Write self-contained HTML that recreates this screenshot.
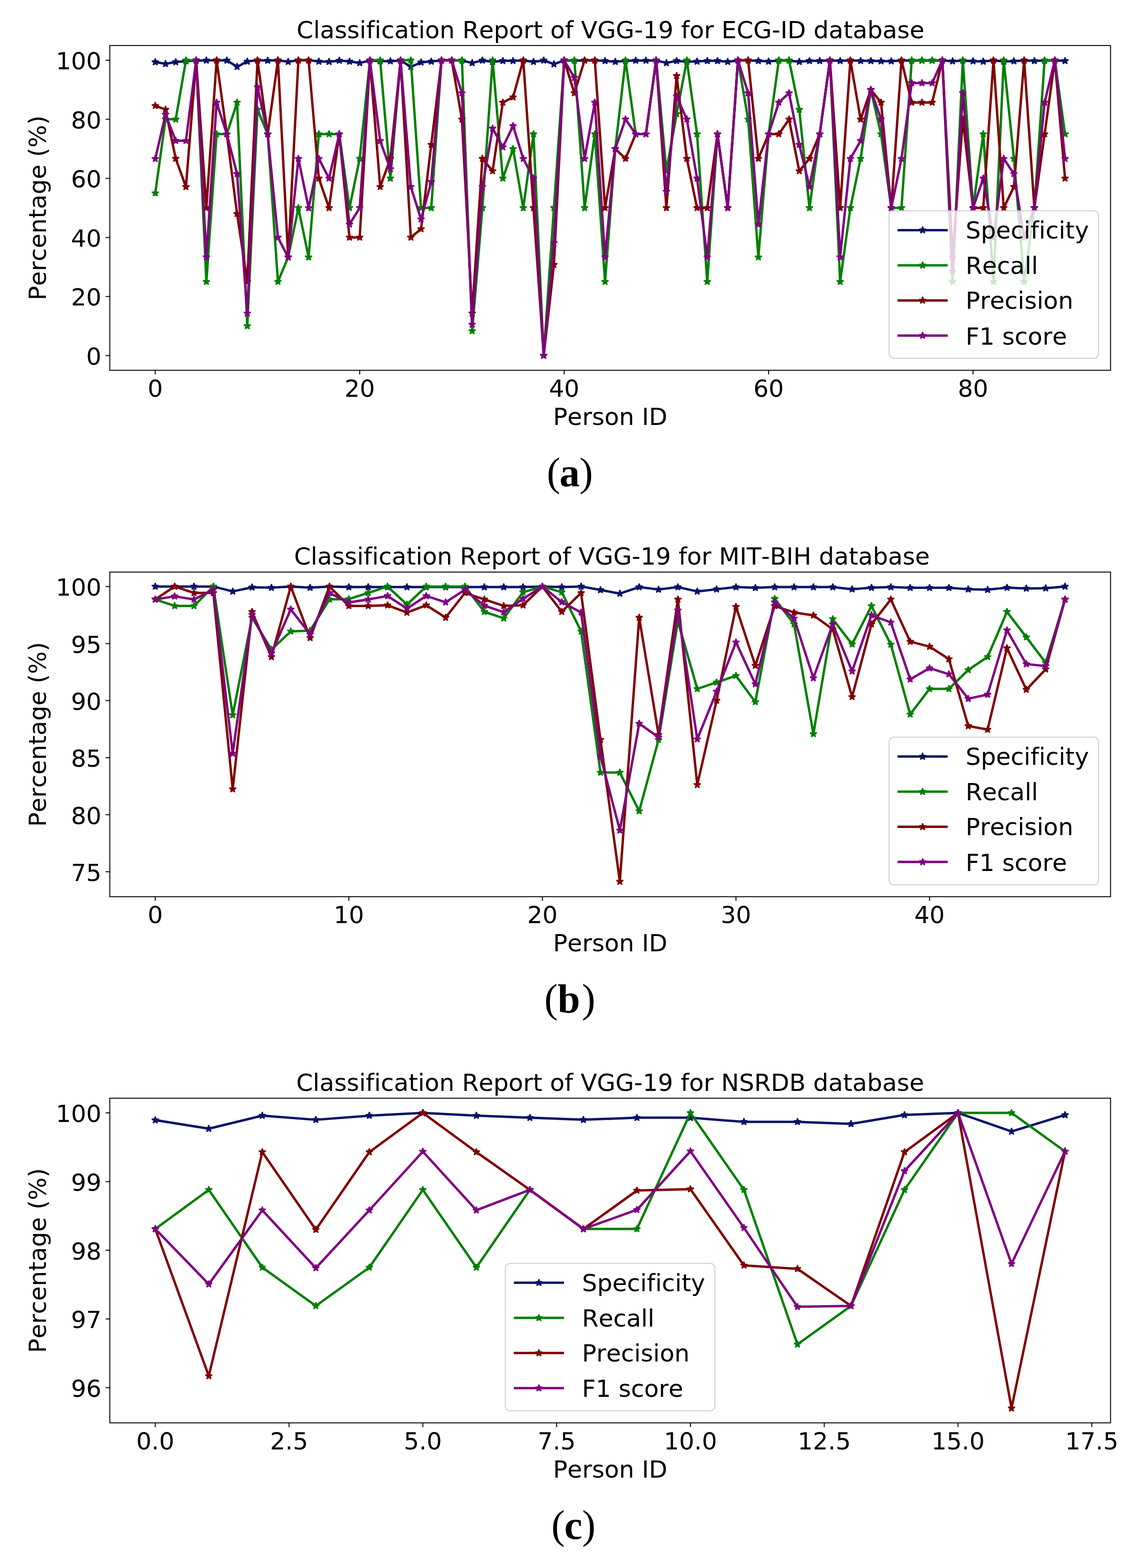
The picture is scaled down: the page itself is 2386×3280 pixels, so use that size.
<!DOCTYPE html><html><head><meta charset="utf-8"><title>Classification Report of VGG-19</title><style>html,body{margin:0;padding:0;background:#fff}svg{display:block}text{font-kerning:none;font-variant-ligatures:none;font-feature-settings:"liga" 0,"clig" 0}</style></head><body><svg width="2386" height="3280" viewBox="0 0 2386 3280"><rect x="0" y="0" width="2386" height="3280" fill="#fff"/><g><polyline fill="none" stroke="#0a1268" stroke-width="5.00" stroke-linejoin="round" stroke-linecap="square" points="324.70,129.81 346.08,133.51 367.45,129.81 388.83,127.95 410.20,126.72 431.58,126.41 452.96,126.10 474.33,126.41 495.71,139.69 517.08,128.57 538.46,126.10 559.83,126.72 581.21,126.10 602.59,129.19 623.96,126.10 645.34,126.10 666.71,128.57 688.09,129.19 709.47,126.72 730.84,128.57 752.22,131.66 773.59,126.72 794.97,127.95 816.35,127.95 837.72,126.72 859.10,139.69 880.47,130.42 901.85,128.57 923.23,126.41 944.60,126.41 965.98,126.72 987.35,131.66 1008.73,126.41 1030.10,129.19 1051.48,127.34 1072.86,127.34 1094.23,126.41 1115.61,129.19 1136.98,126.41 1158.36,134.13 1179.74,126.41 1201.11,126.72 1222.49,126.41 1243.86,126.41 1265.24,127.34 1286.62,129.19 1307.99,127.34 1329.37,126.72 1350.74,126.72 1372.12,126.41 1393.49,131.66 1414.87,127.34 1436.25,129.19 1457.62,128.57 1479.00,127.34 1500.37,127.34 1521.75,129.19 1543.13,126.41 1564.50,126.41 1585.88,127.34 1607.25,128.57 1628.63,126.72 1650.01,126.72 1671.38,129.19 1692.76,127.34 1714.13,127.34 1735.51,126.41 1756.88,127.34 1778.26,126.41 1799.64,127.34 1821.01,127.34 1842.39,127.95 1863.76,127.95 1885.14,126.41 1906.52,126.72 1927.89,126.72 1949.27,126.72 1970.64,126.41 1992.02,127.95 2013.40,126.72 2034.77,127.95 2056.15,128.57 2077.52,126.41 2098.90,128.57 2120.28,127.95 2141.65,126.41 2163.03,127.34 2184.40,126.72 2205.78,126.41 2227.15,127.34"/><path fill="#0a1268" stroke="#0a1268" stroke-width="2.50" stroke-linejoin="bevel" d="M324.70,129.81m0.00,-7.50l-1.68,5.18l-5.45,-0.00l4.41,3.20l-1.68,5.18l4.41,-3.20l4.41,3.20l-1.68,-5.18l4.41,-3.20l-5.45,0.00zM346.08,133.51m0.00,-7.50l-1.68,5.18l-5.45,-0.00l4.41,3.20l-1.68,5.18l4.41,-3.20l4.41,3.20l-1.68,-5.18l4.41,-3.20l-5.45,0.00zM367.45,129.81m0.00,-7.50l-1.68,5.18l-5.45,-0.00l4.41,3.20l-1.68,5.18l4.41,-3.20l4.41,3.20l-1.68,-5.18l4.41,-3.20l-5.45,0.00zM388.83,127.95m0.00,-7.50l-1.68,5.18l-5.45,-0.00l4.41,3.20l-1.68,5.18l4.41,-3.20l4.41,3.20l-1.68,-5.18l4.41,-3.20l-5.45,0.00zM410.20,126.72m0.00,-7.50l-1.68,5.18l-5.45,-0.00l4.41,3.20l-1.68,5.18l4.41,-3.20l4.41,3.20l-1.68,-5.18l4.41,-3.20l-5.45,0.00zM431.58,126.41m0.00,-7.50l-1.68,5.18l-5.45,-0.00l4.41,3.20l-1.68,5.18l4.41,-3.20l4.41,3.20l-1.68,-5.18l4.41,-3.20l-5.45,0.00zM452.96,126.10m0.00,-7.50l-1.68,5.18l-5.45,-0.00l4.41,3.20l-1.68,5.18l4.41,-3.20l4.41,3.20l-1.68,-5.18l4.41,-3.20l-5.45,0.00zM474.33,126.41m0.00,-7.50l-1.68,5.18l-5.45,-0.00l4.41,3.20l-1.68,5.18l4.41,-3.20l4.41,3.20l-1.68,-5.18l4.41,-3.20l-5.45,0.00zM495.71,139.69m0.00,-7.50l-1.68,5.18l-5.45,-0.00l4.41,3.20l-1.68,5.18l4.41,-3.20l4.41,3.20l-1.68,-5.18l4.41,-3.20l-5.45,0.00zM517.08,128.57m0.00,-7.50l-1.68,5.18l-5.45,-0.00l4.41,3.20l-1.68,5.18l4.41,-3.20l4.41,3.20l-1.68,-5.18l4.41,-3.20l-5.45,0.00zM538.46,126.10m0.00,-7.50l-1.68,5.18l-5.45,-0.00l4.41,3.20l-1.68,5.18l4.41,-3.20l4.41,3.20l-1.68,-5.18l4.41,-3.20l-5.45,0.00zM559.83,126.72m0.00,-7.50l-1.68,5.18l-5.45,-0.00l4.41,3.20l-1.68,5.18l4.41,-3.20l4.41,3.20l-1.68,-5.18l4.41,-3.20l-5.45,0.00zM581.21,126.10m0.00,-7.50l-1.68,5.18l-5.45,-0.00l4.41,3.20l-1.68,5.18l4.41,-3.20l4.41,3.20l-1.68,-5.18l4.41,-3.20l-5.45,0.00zM602.59,129.19m0.00,-7.50l-1.68,5.18l-5.45,-0.00l4.41,3.20l-1.68,5.18l4.41,-3.20l4.41,3.20l-1.68,-5.18l4.41,-3.20l-5.45,0.00zM623.96,126.10m0.00,-7.50l-1.68,5.18l-5.45,-0.00l4.41,3.20l-1.68,5.18l4.41,-3.20l4.41,3.20l-1.68,-5.18l4.41,-3.20l-5.45,0.00zM645.34,126.10m0.00,-7.50l-1.68,5.18l-5.45,-0.00l4.41,3.20l-1.68,5.18l4.41,-3.20l4.41,3.20l-1.68,-5.18l4.41,-3.20l-5.45,0.00zM666.71,128.57m0.00,-7.50l-1.68,5.18l-5.45,-0.00l4.41,3.20l-1.68,5.18l4.41,-3.20l4.41,3.20l-1.68,-5.18l4.41,-3.20l-5.45,0.00zM688.09,129.19m0.00,-7.50l-1.68,5.18l-5.45,-0.00l4.41,3.20l-1.68,5.18l4.41,-3.20l4.41,3.20l-1.68,-5.18l4.41,-3.20l-5.45,0.00zM709.47,126.72m0.00,-7.50l-1.68,5.18l-5.45,-0.00l4.41,3.20l-1.68,5.18l4.41,-3.20l4.41,3.20l-1.68,-5.18l4.41,-3.20l-5.45,0.00zM730.84,128.57m0.00,-7.50l-1.68,5.18l-5.45,-0.00l4.41,3.20l-1.68,5.18l4.41,-3.20l4.41,3.20l-1.68,-5.18l4.41,-3.20l-5.45,0.00zM752.22,131.66m0.00,-7.50l-1.68,5.18l-5.45,-0.00l4.41,3.20l-1.68,5.18l4.41,-3.20l4.41,3.20l-1.68,-5.18l4.41,-3.20l-5.45,0.00zM773.59,126.72m0.00,-7.50l-1.68,5.18l-5.45,-0.00l4.41,3.20l-1.68,5.18l4.41,-3.20l4.41,3.20l-1.68,-5.18l4.41,-3.20l-5.45,0.00zM794.97,127.95m0.00,-7.50l-1.68,5.18l-5.45,-0.00l4.41,3.20l-1.68,5.18l4.41,-3.20l4.41,3.20l-1.68,-5.18l4.41,-3.20l-5.45,0.00zM816.35,127.95m0.00,-7.50l-1.68,5.18l-5.45,-0.00l4.41,3.20l-1.68,5.18l4.41,-3.20l4.41,3.20l-1.68,-5.18l4.41,-3.20l-5.45,0.00zM837.72,126.72m0.00,-7.50l-1.68,5.18l-5.45,-0.00l4.41,3.20l-1.68,5.18l4.41,-3.20l4.41,3.20l-1.68,-5.18l4.41,-3.20l-5.45,0.00zM859.10,139.69m0.00,-7.50l-1.68,5.18l-5.45,-0.00l4.41,3.20l-1.68,5.18l4.41,-3.20l4.41,3.20l-1.68,-5.18l4.41,-3.20l-5.45,0.00zM880.47,130.42m0.00,-7.50l-1.68,5.18l-5.45,-0.00l4.41,3.20l-1.68,5.18l4.41,-3.20l4.41,3.20l-1.68,-5.18l4.41,-3.20l-5.45,0.00zM901.85,128.57m0.00,-7.50l-1.68,5.18l-5.45,-0.00l4.41,3.20l-1.68,5.18l4.41,-3.20l4.41,3.20l-1.68,-5.18l4.41,-3.20l-5.45,0.00zM923.23,126.41m0.00,-7.50l-1.68,5.18l-5.45,-0.00l4.41,3.20l-1.68,5.18l4.41,-3.20l4.41,3.20l-1.68,-5.18l4.41,-3.20l-5.45,0.00zM944.60,126.41m0.00,-7.50l-1.68,5.18l-5.45,-0.00l4.41,3.20l-1.68,5.18l4.41,-3.20l4.41,3.20l-1.68,-5.18l4.41,-3.20l-5.45,0.00zM965.98,126.72m0.00,-7.50l-1.68,5.18l-5.45,-0.00l4.41,3.20l-1.68,5.18l4.41,-3.20l4.41,3.20l-1.68,-5.18l4.41,-3.20l-5.45,0.00zM987.35,131.66m0.00,-7.50l-1.68,5.18l-5.45,-0.00l4.41,3.20l-1.68,5.18l4.41,-3.20l4.41,3.20l-1.68,-5.18l4.41,-3.20l-5.45,0.00zM1008.73,126.41m0.00,-7.50l-1.68,5.18l-5.45,-0.00l4.41,3.20l-1.68,5.18l4.41,-3.20l4.41,3.20l-1.68,-5.18l4.41,-3.20l-5.45,0.00zM1030.10,129.19m0.00,-7.50l-1.68,5.18l-5.45,-0.00l4.41,3.20l-1.68,5.18l4.41,-3.20l4.41,3.20l-1.68,-5.18l4.41,-3.20l-5.45,0.00zM1051.48,127.34m0.00,-7.50l-1.68,5.18l-5.45,-0.00l4.41,3.20l-1.68,5.18l4.41,-3.20l4.41,3.20l-1.68,-5.18l4.41,-3.20l-5.45,0.00zM1072.86,127.34m0.00,-7.50l-1.68,5.18l-5.45,-0.00l4.41,3.20l-1.68,5.18l4.41,-3.20l4.41,3.20l-1.68,-5.18l4.41,-3.20l-5.45,0.00zM1094.23,126.41m0.00,-7.50l-1.68,5.18l-5.45,-0.00l4.41,3.20l-1.68,5.18l4.41,-3.20l4.41,3.20l-1.68,-5.18l4.41,-3.20l-5.45,0.00zM1115.61,129.19m0.00,-7.50l-1.68,5.18l-5.45,-0.00l4.41,3.20l-1.68,5.18l4.41,-3.20l4.41,3.20l-1.68,-5.18l4.41,-3.20l-5.45,0.00zM1136.98,126.41m0.00,-7.50l-1.68,5.18l-5.45,-0.00l4.41,3.20l-1.68,5.18l4.41,-3.20l4.41,3.20l-1.68,-5.18l4.41,-3.20l-5.45,0.00zM1158.36,134.13m0.00,-7.50l-1.68,5.18l-5.45,-0.00l4.41,3.20l-1.68,5.18l4.41,-3.20l4.41,3.20l-1.68,-5.18l4.41,-3.20l-5.45,0.00zM1179.74,126.41m0.00,-7.50l-1.68,5.18l-5.45,-0.00l4.41,3.20l-1.68,5.18l4.41,-3.20l4.41,3.20l-1.68,-5.18l4.41,-3.20l-5.45,0.00zM1201.11,126.72m0.00,-7.50l-1.68,5.18l-5.45,-0.00l4.41,3.20l-1.68,5.18l4.41,-3.20l4.41,3.20l-1.68,-5.18l4.41,-3.20l-5.45,0.00zM1222.49,126.41m0.00,-7.50l-1.68,5.18l-5.45,-0.00l4.41,3.20l-1.68,5.18l4.41,-3.20l4.41,3.20l-1.68,-5.18l4.41,-3.20l-5.45,0.00zM1243.86,126.41m0.00,-7.50l-1.68,5.18l-5.45,-0.00l4.41,3.20l-1.68,5.18l4.41,-3.20l4.41,3.20l-1.68,-5.18l4.41,-3.20l-5.45,0.00zM1265.24,127.34m0.00,-7.50l-1.68,5.18l-5.45,-0.00l4.41,3.20l-1.68,5.18l4.41,-3.20l4.41,3.20l-1.68,-5.18l4.41,-3.20l-5.45,0.00zM1286.62,129.19m0.00,-7.50l-1.68,5.18l-5.45,-0.00l4.41,3.20l-1.68,5.18l4.41,-3.20l4.41,3.20l-1.68,-5.18l4.41,-3.20l-5.45,0.00zM1307.99,127.34m0.00,-7.50l-1.68,5.18l-5.45,-0.00l4.41,3.20l-1.68,5.18l4.41,-3.20l4.41,3.20l-1.68,-5.18l4.41,-3.20l-5.45,0.00zM1329.37,126.72m0.00,-7.50l-1.68,5.18l-5.45,-0.00l4.41,3.20l-1.68,5.18l4.41,-3.20l4.41,3.20l-1.68,-5.18l4.41,-3.20l-5.45,0.00zM1350.74,126.72m0.00,-7.50l-1.68,5.18l-5.45,-0.00l4.41,3.20l-1.68,5.18l4.41,-3.20l4.41,3.20l-1.68,-5.18l4.41,-3.20l-5.45,0.00zM1372.12,126.41m0.00,-7.50l-1.68,5.18l-5.45,-0.00l4.41,3.20l-1.68,5.18l4.41,-3.20l4.41,3.20l-1.68,-5.18l4.41,-3.20l-5.45,0.00zM1393.49,131.66m0.00,-7.50l-1.68,5.18l-5.45,-0.00l4.41,3.20l-1.68,5.18l4.41,-3.20l4.41,3.20l-1.68,-5.18l4.41,-3.20l-5.45,0.00zM1414.87,127.34m0.00,-7.50l-1.68,5.18l-5.45,-0.00l4.41,3.20l-1.68,5.18l4.41,-3.20l4.41,3.20l-1.68,-5.18l4.41,-3.20l-5.45,0.00zM1436.25,129.19m0.00,-7.50l-1.68,5.18l-5.45,-0.00l4.41,3.20l-1.68,5.18l4.41,-3.20l4.41,3.20l-1.68,-5.18l4.41,-3.20l-5.45,0.00zM1457.62,128.57m0.00,-7.50l-1.68,5.18l-5.45,-0.00l4.41,3.20l-1.68,5.18l4.41,-3.20l4.41,3.20l-1.68,-5.18l4.41,-3.20l-5.45,0.00zM1479.00,127.34m0.00,-7.50l-1.68,5.18l-5.45,-0.00l4.41,3.20l-1.68,5.18l4.41,-3.20l4.41,3.20l-1.68,-5.18l4.41,-3.20l-5.45,0.00zM1500.37,127.34m0.00,-7.50l-1.68,5.18l-5.45,-0.00l4.41,3.20l-1.68,5.18l4.41,-3.20l4.41,3.20l-1.68,-5.18l4.41,-3.20l-5.45,0.00zM1521.75,129.19m0.00,-7.50l-1.68,5.18l-5.45,-0.00l4.41,3.20l-1.68,5.18l4.41,-3.20l4.41,3.20l-1.68,-5.18l4.41,-3.20l-5.45,0.00zM1543.13,126.41m0.00,-7.50l-1.68,5.18l-5.45,-0.00l4.41,3.20l-1.68,5.18l4.41,-3.20l4.41,3.20l-1.68,-5.18l4.41,-3.20l-5.45,0.00zM1564.50,126.41m0.00,-7.50l-1.68,5.18l-5.45,-0.00l4.41,3.20l-1.68,5.18l4.41,-3.20l4.41,3.20l-1.68,-5.18l4.41,-3.20l-5.45,0.00zM1585.88,127.34m0.00,-7.50l-1.68,5.18l-5.45,-0.00l4.41,3.20l-1.68,5.18l4.41,-3.20l4.41,3.20l-1.68,-5.18l4.41,-3.20l-5.45,0.00zM1607.25,128.57m0.00,-7.50l-1.68,5.18l-5.45,-0.00l4.41,3.20l-1.68,5.18l4.41,-3.20l4.41,3.20l-1.68,-5.18l4.41,-3.20l-5.45,0.00zM1628.63,126.72m0.00,-7.50l-1.68,5.18l-5.45,-0.00l4.41,3.20l-1.68,5.18l4.41,-3.20l4.41,3.20l-1.68,-5.18l4.41,-3.20l-5.45,0.00zM1650.01,126.72m0.00,-7.50l-1.68,5.18l-5.45,-0.00l4.41,3.20l-1.68,5.18l4.41,-3.20l4.41,3.20l-1.68,-5.18l4.41,-3.20l-5.45,0.00zM1671.38,129.19m0.00,-7.50l-1.68,5.18l-5.45,-0.00l4.41,3.20l-1.68,5.18l4.41,-3.20l4.41,3.20l-1.68,-5.18l4.41,-3.20l-5.45,0.00zM1692.76,127.34m0.00,-7.50l-1.68,5.18l-5.45,-0.00l4.41,3.20l-1.68,5.18l4.41,-3.20l4.41,3.20l-1.68,-5.18l4.41,-3.20l-5.45,0.00zM1714.13,127.34m0.00,-7.50l-1.68,5.18l-5.45,-0.00l4.41,3.20l-1.68,5.18l4.41,-3.20l4.41,3.20l-1.68,-5.18l4.41,-3.20l-5.45,0.00zM1735.51,126.41m0.00,-7.50l-1.68,5.18l-5.45,-0.00l4.41,3.20l-1.68,5.18l4.41,-3.20l4.41,3.20l-1.68,-5.18l4.41,-3.20l-5.45,0.00zM1756.88,127.34m0.00,-7.50l-1.68,5.18l-5.45,-0.00l4.41,3.20l-1.68,5.18l4.41,-3.20l4.41,3.20l-1.68,-5.18l4.41,-3.20l-5.45,0.00zM1778.26,126.41m0.00,-7.50l-1.68,5.18l-5.45,-0.00l4.41,3.20l-1.68,5.18l4.41,-3.20l4.41,3.20l-1.68,-5.18l4.41,-3.20l-5.45,0.00zM1799.64,127.34m0.00,-7.50l-1.68,5.18l-5.45,-0.00l4.41,3.20l-1.68,5.18l4.41,-3.20l4.41,3.20l-1.68,-5.18l4.41,-3.20l-5.45,0.00zM1821.01,127.34m0.00,-7.50l-1.68,5.18l-5.45,-0.00l4.41,3.20l-1.68,5.18l4.41,-3.20l4.41,3.20l-1.68,-5.18l4.41,-3.20l-5.45,0.00zM1842.39,127.95m0.00,-7.50l-1.68,5.18l-5.45,-0.00l4.41,3.20l-1.68,5.18l4.41,-3.20l4.41,3.20l-1.68,-5.18l4.41,-3.20l-5.45,0.00zM1863.76,127.95m0.00,-7.50l-1.68,5.18l-5.45,-0.00l4.41,3.20l-1.68,5.18l4.41,-3.20l4.41,3.20l-1.68,-5.18l4.41,-3.20l-5.45,0.00zM1885.14,126.41m0.00,-7.50l-1.68,5.18l-5.45,-0.00l4.41,3.20l-1.68,5.18l4.41,-3.20l4.41,3.20l-1.68,-5.18l4.41,-3.20l-5.45,0.00zM1906.52,126.72m0.00,-7.50l-1.68,5.18l-5.45,-0.00l4.41,3.20l-1.68,5.18l4.41,-3.20l4.41,3.20l-1.68,-5.18l4.41,-3.20l-5.45,0.00zM1927.89,126.72m0.00,-7.50l-1.68,5.18l-5.45,-0.00l4.41,3.20l-1.68,5.18l4.41,-3.20l4.41,3.20l-1.68,-5.18l4.41,-3.20l-5.45,0.00zM1949.27,126.72m0.00,-7.50l-1.68,5.18l-5.45,-0.00l4.41,3.20l-1.68,5.18l4.41,-3.20l4.41,3.20l-1.68,-5.18l4.41,-3.20l-5.45,0.00zM1970.64,126.41m0.00,-7.50l-1.68,5.18l-5.45,-0.00l4.41,3.20l-1.68,5.18l4.41,-3.20l4.41,3.20l-1.68,-5.18l4.41,-3.20l-5.45,0.00zM1992.02,127.95m0.00,-7.50l-1.68,5.18l-5.45,-0.00l4.41,3.20l-1.68,5.18l4.41,-3.20l4.41,3.20l-1.68,-5.18l4.41,-3.20l-5.45,0.00zM2013.40,126.72m0.00,-7.50l-1.68,5.18l-5.45,-0.00l4.41,3.20l-1.68,5.18l4.41,-3.20l4.41,3.20l-1.68,-5.18l4.41,-3.20l-5.45,0.00zM2034.77,127.95m0.00,-7.50l-1.68,5.18l-5.45,-0.00l4.41,3.20l-1.68,5.18l4.41,-3.20l4.41,3.20l-1.68,-5.18l4.41,-3.20l-5.45,0.00zM2056.15,128.57m0.00,-7.50l-1.68,5.18l-5.45,-0.00l4.41,3.20l-1.68,5.18l4.41,-3.20l4.41,3.20l-1.68,-5.18l4.41,-3.20l-5.45,0.00zM2077.52,126.41m0.00,-7.50l-1.68,5.18l-5.45,-0.00l4.41,3.20l-1.68,5.18l4.41,-3.20l4.41,3.20l-1.68,-5.18l4.41,-3.20l-5.45,0.00zM2098.90,128.57m0.00,-7.50l-1.68,5.18l-5.45,-0.00l4.41,3.20l-1.68,5.18l4.41,-3.20l4.41,3.20l-1.68,-5.18l4.41,-3.20l-5.45,0.00zM2120.28,127.95m0.00,-7.50l-1.68,5.18l-5.45,-0.00l4.41,3.20l-1.68,5.18l4.41,-3.20l4.41,3.20l-1.68,-5.18l4.41,-3.20l-5.45,0.00zM2141.65,126.41m0.00,-7.50l-1.68,5.18l-5.45,-0.00l4.41,3.20l-1.68,5.18l4.41,-3.20l4.41,3.20l-1.68,-5.18l4.41,-3.20l-5.45,0.00zM2163.03,127.34m0.00,-7.50l-1.68,5.18l-5.45,-0.00l4.41,3.20l-1.68,5.18l4.41,-3.20l4.41,3.20l-1.68,-5.18l4.41,-3.20l-5.45,0.00zM2184.40,126.72m0.00,-7.50l-1.68,5.18l-5.45,-0.00l4.41,3.20l-1.68,5.18l4.41,-3.20l4.41,3.20l-1.68,-5.18l4.41,-3.20l-5.45,0.00zM2205.78,126.41m0.00,-7.50l-1.68,5.18l-5.45,-0.00l4.41,3.20l-1.68,5.18l4.41,-3.20l4.41,3.20l-1.68,-5.18l4.41,-3.20l-5.45,0.00zM2227.15,127.34m0.00,-7.50l-1.68,5.18l-5.45,-0.00l4.41,3.20l-1.68,5.18l4.41,-3.20l4.41,3.20l-1.68,-5.18l4.41,-3.20l-5.45,0.00z"/><polyline fill="none" stroke="#008000" stroke-width="5.00" stroke-linejoin="round" stroke-linecap="square" points="324.70,404.02 346.08,249.62 367.45,249.62 388.83,126.10 410.20,126.10 431.58,589.30 452.96,280.50 474.33,280.50 495.71,214.42 517.08,681.94 538.46,229.24 559.83,280.50 581.21,589.30 602.59,538.04 623.96,434.90 645.34,538.04 666.71,280.50 688.09,280.50 709.47,280.50 730.84,434.90 752.22,331.76 773.59,126.10 794.97,126.10 816.35,373.14 837.72,126.10 859.10,126.10 880.47,434.90 901.85,434.90 923.23,126.10 944.60,126.10 965.98,126.10 987.35,692.25 1008.73,434.90 1030.10,126.10 1051.48,373.14 1072.86,311.38 1094.23,434.90 1115.61,280.50 1136.98,743.70 1158.36,434.90 1179.74,126.10 1201.11,126.10 1222.49,434.90 1243.86,280.50 1265.24,589.30 1286.62,311.38 1307.99,126.10 1329.37,280.50 1350.74,280.50 1372.12,126.10 1393.49,357.70 1414.87,238.38 1436.25,126.10 1457.62,280.50 1479.00,589.30 1500.37,280.50 1521.75,434.90 1543.13,126.10 1564.50,249.62 1585.88,538.04 1607.25,280.50 1628.63,126.10 1650.01,126.10 1671.38,229.24 1692.76,434.90 1714.13,280.50 1735.51,126.10 1756.88,589.30 1778.26,434.90 1799.64,331.76 1821.01,187.86 1842.39,280.50 1863.76,434.90 1885.14,434.90 1906.52,126.10 1927.89,126.10 1949.27,126.10 1970.64,126.10 1992.02,589.30 2013.40,126.10 2034.77,434.90 2056.15,280.50 2077.52,589.30 2098.90,126.10 2120.28,331.76 2141.65,589.30 2163.03,434.90 2184.40,126.10 2205.78,126.10 2227.15,280.50"/><path fill="#008000" stroke="#008000" stroke-width="2.50" stroke-linejoin="bevel" d="M324.70,404.02m0.00,-7.50l-1.68,5.18l-5.45,-0.00l4.41,3.20l-1.68,5.18l4.41,-3.20l4.41,3.20l-1.68,-5.18l4.41,-3.20l-5.45,0.00zM346.08,249.62m0.00,-7.50l-1.68,5.18l-5.45,-0.00l4.41,3.20l-1.68,5.18l4.41,-3.20l4.41,3.20l-1.68,-5.18l4.41,-3.20l-5.45,0.00zM367.45,249.62m0.00,-7.50l-1.68,5.18l-5.45,-0.00l4.41,3.20l-1.68,5.18l4.41,-3.20l4.41,3.20l-1.68,-5.18l4.41,-3.20l-5.45,0.00zM388.83,126.10m0.00,-7.50l-1.68,5.18l-5.45,-0.00l4.41,3.20l-1.68,5.18l4.41,-3.20l4.41,3.20l-1.68,-5.18l4.41,-3.20l-5.45,0.00zM410.20,126.10m0.00,-7.50l-1.68,5.18l-5.45,-0.00l4.41,3.20l-1.68,5.18l4.41,-3.20l4.41,3.20l-1.68,-5.18l4.41,-3.20l-5.45,0.00zM431.58,589.30m0.00,-7.50l-1.68,5.18l-5.45,-0.00l4.41,3.20l-1.68,5.18l4.41,-3.20l4.41,3.20l-1.68,-5.18l4.41,-3.20l-5.45,0.00zM452.96,280.50m0.00,-7.50l-1.68,5.18l-5.45,-0.00l4.41,3.20l-1.68,5.18l4.41,-3.20l4.41,3.20l-1.68,-5.18l4.41,-3.20l-5.45,0.00zM474.33,280.50m0.00,-7.50l-1.68,5.18l-5.45,-0.00l4.41,3.20l-1.68,5.18l4.41,-3.20l4.41,3.20l-1.68,-5.18l4.41,-3.20l-5.45,0.00zM495.71,214.42m0.00,-7.50l-1.68,5.18l-5.45,-0.00l4.41,3.20l-1.68,5.18l4.41,-3.20l4.41,3.20l-1.68,-5.18l4.41,-3.20l-5.45,0.00zM517.08,681.94m0.00,-7.50l-1.68,5.18l-5.45,-0.00l4.41,3.20l-1.68,5.18l4.41,-3.20l4.41,3.20l-1.68,-5.18l4.41,-3.20l-5.45,0.00zM538.46,229.24m0.00,-7.50l-1.68,5.18l-5.45,-0.00l4.41,3.20l-1.68,5.18l4.41,-3.20l4.41,3.20l-1.68,-5.18l4.41,-3.20l-5.45,0.00zM559.83,280.50m0.00,-7.50l-1.68,5.18l-5.45,-0.00l4.41,3.20l-1.68,5.18l4.41,-3.20l4.41,3.20l-1.68,-5.18l4.41,-3.20l-5.45,0.00zM581.21,589.30m0.00,-7.50l-1.68,5.18l-5.45,-0.00l4.41,3.20l-1.68,5.18l4.41,-3.20l4.41,3.20l-1.68,-5.18l4.41,-3.20l-5.45,0.00zM602.59,538.04m0.00,-7.50l-1.68,5.18l-5.45,-0.00l4.41,3.20l-1.68,5.18l4.41,-3.20l4.41,3.20l-1.68,-5.18l4.41,-3.20l-5.45,0.00zM623.96,434.90m0.00,-7.50l-1.68,5.18l-5.45,-0.00l4.41,3.20l-1.68,5.18l4.41,-3.20l4.41,3.20l-1.68,-5.18l4.41,-3.20l-5.45,0.00zM645.34,538.04m0.00,-7.50l-1.68,5.18l-5.45,-0.00l4.41,3.20l-1.68,5.18l4.41,-3.20l4.41,3.20l-1.68,-5.18l4.41,-3.20l-5.45,0.00zM666.71,280.50m0.00,-7.50l-1.68,5.18l-5.45,-0.00l4.41,3.20l-1.68,5.18l4.41,-3.20l4.41,3.20l-1.68,-5.18l4.41,-3.20l-5.45,0.00zM688.09,280.50m0.00,-7.50l-1.68,5.18l-5.45,-0.00l4.41,3.20l-1.68,5.18l4.41,-3.20l4.41,3.20l-1.68,-5.18l4.41,-3.20l-5.45,0.00zM709.47,280.50m0.00,-7.50l-1.68,5.18l-5.45,-0.00l4.41,3.20l-1.68,5.18l4.41,-3.20l4.41,3.20l-1.68,-5.18l4.41,-3.20l-5.45,0.00zM730.84,434.90m0.00,-7.50l-1.68,5.18l-5.45,-0.00l4.41,3.20l-1.68,5.18l4.41,-3.20l4.41,3.20l-1.68,-5.18l4.41,-3.20l-5.45,0.00zM752.22,331.76m0.00,-7.50l-1.68,5.18l-5.45,-0.00l4.41,3.20l-1.68,5.18l4.41,-3.20l4.41,3.20l-1.68,-5.18l4.41,-3.20l-5.45,0.00zM773.59,126.10m0.00,-7.50l-1.68,5.18l-5.45,-0.00l4.41,3.20l-1.68,5.18l4.41,-3.20l4.41,3.20l-1.68,-5.18l4.41,-3.20l-5.45,0.00zM794.97,126.10m0.00,-7.50l-1.68,5.18l-5.45,-0.00l4.41,3.20l-1.68,5.18l4.41,-3.20l4.41,3.20l-1.68,-5.18l4.41,-3.20l-5.45,0.00zM816.35,373.14m0.00,-7.50l-1.68,5.18l-5.45,-0.00l4.41,3.20l-1.68,5.18l4.41,-3.20l4.41,3.20l-1.68,-5.18l4.41,-3.20l-5.45,0.00zM837.72,126.10m0.00,-7.50l-1.68,5.18l-5.45,-0.00l4.41,3.20l-1.68,5.18l4.41,-3.20l4.41,3.20l-1.68,-5.18l4.41,-3.20l-5.45,0.00zM859.10,126.10m0.00,-7.50l-1.68,5.18l-5.45,-0.00l4.41,3.20l-1.68,5.18l4.41,-3.20l4.41,3.20l-1.68,-5.18l4.41,-3.20l-5.45,0.00zM880.47,434.90m0.00,-7.50l-1.68,5.18l-5.45,-0.00l4.41,3.20l-1.68,5.18l4.41,-3.20l4.41,3.20l-1.68,-5.18l4.41,-3.20l-5.45,0.00zM901.85,434.90m0.00,-7.50l-1.68,5.18l-5.45,-0.00l4.41,3.20l-1.68,5.18l4.41,-3.20l4.41,3.20l-1.68,-5.18l4.41,-3.20l-5.45,0.00zM923.23,126.10m0.00,-7.50l-1.68,5.18l-5.45,-0.00l4.41,3.20l-1.68,5.18l4.41,-3.20l4.41,3.20l-1.68,-5.18l4.41,-3.20l-5.45,0.00zM944.60,126.10m0.00,-7.50l-1.68,5.18l-5.45,-0.00l4.41,3.20l-1.68,5.18l4.41,-3.20l4.41,3.20l-1.68,-5.18l4.41,-3.20l-5.45,0.00zM965.98,126.10m0.00,-7.50l-1.68,5.18l-5.45,-0.00l4.41,3.20l-1.68,5.18l4.41,-3.20l4.41,3.20l-1.68,-5.18l4.41,-3.20l-5.45,0.00zM987.35,692.25m0.00,-7.50l-1.68,5.18l-5.45,-0.00l4.41,3.20l-1.68,5.18l4.41,-3.20l4.41,3.20l-1.68,-5.18l4.41,-3.20l-5.45,0.00zM1008.73,434.90m0.00,-7.50l-1.68,5.18l-5.45,-0.00l4.41,3.20l-1.68,5.18l4.41,-3.20l4.41,3.20l-1.68,-5.18l4.41,-3.20l-5.45,0.00zM1030.10,126.10m0.00,-7.50l-1.68,5.18l-5.45,-0.00l4.41,3.20l-1.68,5.18l4.41,-3.20l4.41,3.20l-1.68,-5.18l4.41,-3.20l-5.45,0.00zM1051.48,373.14m0.00,-7.50l-1.68,5.18l-5.45,-0.00l4.41,3.20l-1.68,5.18l4.41,-3.20l4.41,3.20l-1.68,-5.18l4.41,-3.20l-5.45,0.00zM1072.86,311.38m0.00,-7.50l-1.68,5.18l-5.45,-0.00l4.41,3.20l-1.68,5.18l4.41,-3.20l4.41,3.20l-1.68,-5.18l4.41,-3.20l-5.45,0.00zM1094.23,434.90m0.00,-7.50l-1.68,5.18l-5.45,-0.00l4.41,3.20l-1.68,5.18l4.41,-3.20l4.41,3.20l-1.68,-5.18l4.41,-3.20l-5.45,0.00zM1115.61,280.50m0.00,-7.50l-1.68,5.18l-5.45,-0.00l4.41,3.20l-1.68,5.18l4.41,-3.20l4.41,3.20l-1.68,-5.18l4.41,-3.20l-5.45,0.00zM1136.98,743.70m0.00,-7.50l-1.68,5.18l-5.45,-0.00l4.41,3.20l-1.68,5.18l4.41,-3.20l4.41,3.20l-1.68,-5.18l4.41,-3.20l-5.45,0.00zM1158.36,434.90m0.00,-7.50l-1.68,5.18l-5.45,-0.00l4.41,3.20l-1.68,5.18l4.41,-3.20l4.41,3.20l-1.68,-5.18l4.41,-3.20l-5.45,0.00zM1179.74,126.10m0.00,-7.50l-1.68,5.18l-5.45,-0.00l4.41,3.20l-1.68,5.18l4.41,-3.20l4.41,3.20l-1.68,-5.18l4.41,-3.20l-5.45,0.00zM1201.11,126.10m0.00,-7.50l-1.68,5.18l-5.45,-0.00l4.41,3.20l-1.68,5.18l4.41,-3.20l4.41,3.20l-1.68,-5.18l4.41,-3.20l-5.45,0.00zM1222.49,434.90m0.00,-7.50l-1.68,5.18l-5.45,-0.00l4.41,3.20l-1.68,5.18l4.41,-3.20l4.41,3.20l-1.68,-5.18l4.41,-3.20l-5.45,0.00zM1243.86,280.50m0.00,-7.50l-1.68,5.18l-5.45,-0.00l4.41,3.20l-1.68,5.18l4.41,-3.20l4.41,3.20l-1.68,-5.18l4.41,-3.20l-5.45,0.00zM1265.24,589.30m0.00,-7.50l-1.68,5.18l-5.45,-0.00l4.41,3.20l-1.68,5.18l4.41,-3.20l4.41,3.20l-1.68,-5.18l4.41,-3.20l-5.45,0.00zM1286.62,311.38m0.00,-7.50l-1.68,5.18l-5.45,-0.00l4.41,3.20l-1.68,5.18l4.41,-3.20l4.41,3.20l-1.68,-5.18l4.41,-3.20l-5.45,0.00zM1307.99,126.10m0.00,-7.50l-1.68,5.18l-5.45,-0.00l4.41,3.20l-1.68,5.18l4.41,-3.20l4.41,3.20l-1.68,-5.18l4.41,-3.20l-5.45,0.00zM1329.37,280.50m0.00,-7.50l-1.68,5.18l-5.45,-0.00l4.41,3.20l-1.68,5.18l4.41,-3.20l4.41,3.20l-1.68,-5.18l4.41,-3.20l-5.45,0.00zM1350.74,280.50m0.00,-7.50l-1.68,5.18l-5.45,-0.00l4.41,3.20l-1.68,5.18l4.41,-3.20l4.41,3.20l-1.68,-5.18l4.41,-3.20l-5.45,0.00zM1372.12,126.10m0.00,-7.50l-1.68,5.18l-5.45,-0.00l4.41,3.20l-1.68,5.18l4.41,-3.20l4.41,3.20l-1.68,-5.18l4.41,-3.20l-5.45,0.00zM1393.49,357.70m0.00,-7.50l-1.68,5.18l-5.45,-0.00l4.41,3.20l-1.68,5.18l4.41,-3.20l4.41,3.20l-1.68,-5.18l4.41,-3.20l-5.45,0.00zM1414.87,238.38m0.00,-7.50l-1.68,5.18l-5.45,-0.00l4.41,3.20l-1.68,5.18l4.41,-3.20l4.41,3.20l-1.68,-5.18l4.41,-3.20l-5.45,0.00zM1436.25,126.10m0.00,-7.50l-1.68,5.18l-5.45,-0.00l4.41,3.20l-1.68,5.18l4.41,-3.20l4.41,3.20l-1.68,-5.18l4.41,-3.20l-5.45,0.00zM1457.62,280.50m0.00,-7.50l-1.68,5.18l-5.45,-0.00l4.41,3.20l-1.68,5.18l4.41,-3.20l4.41,3.20l-1.68,-5.18l4.41,-3.20l-5.45,0.00zM1479.00,589.30m0.00,-7.50l-1.68,5.18l-5.45,-0.00l4.41,3.20l-1.68,5.18l4.41,-3.20l4.41,3.20l-1.68,-5.18l4.41,-3.20l-5.45,0.00zM1500.37,280.50m0.00,-7.50l-1.68,5.18l-5.45,-0.00l4.41,3.20l-1.68,5.18l4.41,-3.20l4.41,3.20l-1.68,-5.18l4.41,-3.20l-5.45,0.00zM1521.75,434.90m0.00,-7.50l-1.68,5.18l-5.45,-0.00l4.41,3.20l-1.68,5.18l4.41,-3.20l4.41,3.20l-1.68,-5.18l4.41,-3.20l-5.45,0.00zM1543.13,126.10m0.00,-7.50l-1.68,5.18l-5.45,-0.00l4.41,3.20l-1.68,5.18l4.41,-3.20l4.41,3.20l-1.68,-5.18l4.41,-3.20l-5.45,0.00zM1564.50,249.62m0.00,-7.50l-1.68,5.18l-5.45,-0.00l4.41,3.20l-1.68,5.18l4.41,-3.20l4.41,3.20l-1.68,-5.18l4.41,-3.20l-5.45,0.00zM1585.88,538.04m0.00,-7.50l-1.68,5.18l-5.45,-0.00l4.41,3.20l-1.68,5.18l4.41,-3.20l4.41,3.20l-1.68,-5.18l4.41,-3.20l-5.45,0.00zM1607.25,280.50m0.00,-7.50l-1.68,5.18l-5.45,-0.00l4.41,3.20l-1.68,5.18l4.41,-3.20l4.41,3.20l-1.68,-5.18l4.41,-3.20l-5.45,0.00zM1628.63,126.10m0.00,-7.50l-1.68,5.18l-5.45,-0.00l4.41,3.20l-1.68,5.18l4.41,-3.20l4.41,3.20l-1.68,-5.18l4.41,-3.20l-5.45,0.00zM1650.01,126.10m0.00,-7.50l-1.68,5.18l-5.45,-0.00l4.41,3.20l-1.68,5.18l4.41,-3.20l4.41,3.20l-1.68,-5.18l4.41,-3.20l-5.45,0.00zM1671.38,229.24m0.00,-7.50l-1.68,5.18l-5.45,-0.00l4.41,3.20l-1.68,5.18l4.41,-3.20l4.41,3.20l-1.68,-5.18l4.41,-3.20l-5.45,0.00zM1692.76,434.90m0.00,-7.50l-1.68,5.18l-5.45,-0.00l4.41,3.20l-1.68,5.18l4.41,-3.20l4.41,3.20l-1.68,-5.18l4.41,-3.20l-5.45,0.00zM1714.13,280.50m0.00,-7.50l-1.68,5.18l-5.45,-0.00l4.41,3.20l-1.68,5.18l4.41,-3.20l4.41,3.20l-1.68,-5.18l4.41,-3.20l-5.45,0.00zM1735.51,126.10m0.00,-7.50l-1.68,5.18l-5.45,-0.00l4.41,3.20l-1.68,5.18l4.41,-3.20l4.41,3.20l-1.68,-5.18l4.41,-3.20l-5.45,0.00zM1756.88,589.30m0.00,-7.50l-1.68,5.18l-5.45,-0.00l4.41,3.20l-1.68,5.18l4.41,-3.20l4.41,3.20l-1.68,-5.18l4.41,-3.20l-5.45,0.00zM1778.26,434.90m0.00,-7.50l-1.68,5.18l-5.45,-0.00l4.41,3.20l-1.68,5.18l4.41,-3.20l4.41,3.20l-1.68,-5.18l4.41,-3.20l-5.45,0.00zM1799.64,331.76m0.00,-7.50l-1.68,5.18l-5.45,-0.00l4.41,3.20l-1.68,5.18l4.41,-3.20l4.41,3.20l-1.68,-5.18l4.41,-3.20l-5.45,0.00zM1821.01,187.86m0.00,-7.50l-1.68,5.18l-5.45,-0.00l4.41,3.20l-1.68,5.18l4.41,-3.20l4.41,3.20l-1.68,-5.18l4.41,-3.20l-5.45,0.00zM1842.39,280.50m0.00,-7.50l-1.68,5.18l-5.45,-0.00l4.41,3.20l-1.68,5.18l4.41,-3.20l4.41,3.20l-1.68,-5.18l4.41,-3.20l-5.45,0.00zM1863.76,434.90m0.00,-7.50l-1.68,5.18l-5.45,-0.00l4.41,3.20l-1.68,5.18l4.41,-3.20l4.41,3.20l-1.68,-5.18l4.41,-3.20l-5.45,0.00zM1885.14,434.90m0.00,-7.50l-1.68,5.18l-5.45,-0.00l4.41,3.20l-1.68,5.18l4.41,-3.20l4.41,3.20l-1.68,-5.18l4.41,-3.20l-5.45,0.00zM1906.52,126.10m0.00,-7.50l-1.68,5.18l-5.45,-0.00l4.41,3.20l-1.68,5.18l4.41,-3.20l4.41,3.20l-1.68,-5.18l4.41,-3.20l-5.45,0.00zM1927.89,126.10m0.00,-7.50l-1.68,5.18l-5.45,-0.00l4.41,3.20l-1.68,5.18l4.41,-3.20l4.41,3.20l-1.68,-5.18l4.41,-3.20l-5.45,0.00zM1949.27,126.10m0.00,-7.50l-1.68,5.18l-5.45,-0.00l4.41,3.20l-1.68,5.18l4.41,-3.20l4.41,3.20l-1.68,-5.18l4.41,-3.20l-5.45,0.00zM1970.64,126.10m0.00,-7.50l-1.68,5.18l-5.45,-0.00l4.41,3.20l-1.68,5.18l4.41,-3.20l4.41,3.20l-1.68,-5.18l4.41,-3.20l-5.45,0.00zM1992.02,589.30m0.00,-7.50l-1.68,5.18l-5.45,-0.00l4.41,3.20l-1.68,5.18l4.41,-3.20l4.41,3.20l-1.68,-5.18l4.41,-3.20l-5.45,0.00zM2013.40,126.10m0.00,-7.50l-1.68,5.18l-5.45,-0.00l4.41,3.20l-1.68,5.18l4.41,-3.20l4.41,3.20l-1.68,-5.18l4.41,-3.20l-5.45,0.00zM2034.77,434.90m0.00,-7.50l-1.68,5.18l-5.45,-0.00l4.41,3.20l-1.68,5.18l4.41,-3.20l4.41,3.20l-1.68,-5.18l4.41,-3.20l-5.45,0.00zM2056.15,280.50m0.00,-7.50l-1.68,5.18l-5.45,-0.00l4.41,3.20l-1.68,5.18l4.41,-3.20l4.41,3.20l-1.68,-5.18l4.41,-3.20l-5.45,0.00zM2077.52,589.30m0.00,-7.50l-1.68,5.18l-5.45,-0.00l4.41,3.20l-1.68,5.18l4.41,-3.20l4.41,3.20l-1.68,-5.18l4.41,-3.20l-5.45,0.00zM2098.90,126.10m0.00,-7.50l-1.68,5.18l-5.45,-0.00l4.41,3.20l-1.68,5.18l4.41,-3.20l4.41,3.20l-1.68,-5.18l4.41,-3.20l-5.45,0.00zM2120.28,331.76m0.00,-7.50l-1.68,5.18l-5.45,-0.00l4.41,3.20l-1.68,5.18l4.41,-3.20l4.41,3.20l-1.68,-5.18l4.41,-3.20l-5.45,0.00zM2141.65,589.30m0.00,-7.50l-1.68,5.18l-5.45,-0.00l4.41,3.20l-1.68,5.18l4.41,-3.20l4.41,3.20l-1.68,-5.18l4.41,-3.20l-5.45,0.00zM2163.03,434.90m0.00,-7.50l-1.68,5.18l-5.45,-0.00l4.41,3.20l-1.68,5.18l4.41,-3.20l4.41,3.20l-1.68,-5.18l4.41,-3.20l-5.45,0.00zM2184.40,126.10m0.00,-7.50l-1.68,5.18l-5.45,-0.00l4.41,3.20l-1.68,5.18l4.41,-3.20l4.41,3.20l-1.68,-5.18l4.41,-3.20l-5.45,0.00zM2205.78,126.10m0.00,-7.50l-1.68,5.18l-5.45,-0.00l4.41,3.20l-1.68,5.18l4.41,-3.20l4.41,3.20l-1.68,-5.18l4.41,-3.20l-5.45,0.00zM2227.15,280.50m0.00,-7.50l-1.68,5.18l-5.45,-0.00l4.41,3.20l-1.68,5.18l4.41,-3.20l4.41,3.20l-1.68,-5.18l4.41,-3.20l-5.45,0.00z"/><polyline fill="none" stroke="#800000" stroke-width="5.00" stroke-linejoin="round" stroke-linecap="square" points="324.70,221.21 346.08,229.24 367.45,331.76 388.83,390.80 410.20,126.10 431.58,434.90 452.96,126.10 474.33,280.50 495.71,447.25 517.08,589.30 538.46,126.10 559.83,280.50 581.21,126.10 602.59,538.04 623.96,126.10 645.34,126.10 666.71,373.14 688.09,434.90 709.47,280.50 730.84,496.66 752.22,496.66 773.59,126.10 794.97,390.80 816.35,331.76 837.72,126.10 859.10,496.66 880.47,479.00 901.85,302.55 923.23,126.10 944.60,126.10 965.98,249.62 987.35,655.44 1008.73,331.76 1030.10,357.70 1051.48,214.42 1072.86,203.30 1094.23,126.10 1115.61,434.90 1136.98,743.70 1158.36,553.66 1179.74,126.10 1201.11,194.65 1222.49,126.10 1243.86,126.10 1265.24,434.90 1286.62,311.38 1307.99,331.76 1329.37,280.50 1350.74,280.50 1372.12,126.10 1393.49,434.90 1414.87,158.59 1436.25,331.76 1457.62,434.90 1479.00,434.90 1500.37,280.50 1521.75,434.90 1543.13,126.10 1564.50,126.10 1585.88,331.76 1607.25,280.50 1628.63,280.50 1650.01,249.62 1671.38,357.70 1692.76,331.76 1714.13,280.50 1735.51,126.10 1756.88,434.90 1778.26,126.10 1799.64,249.62 1821.01,187.86 1842.39,214.42 1863.76,434.90 1885.14,126.10 1906.52,214.42 1927.89,214.42 1949.27,214.42 1970.64,126.10 1992.02,538.04 2013.40,249.62 2034.77,434.90 2056.15,434.90 2077.52,126.10 2098.90,434.90 2120.28,390.80 2141.65,126.10 2163.03,434.90 2184.40,280.50 2205.78,126.10 2227.15,373.14"/><path fill="#800000" stroke="#800000" stroke-width="2.50" stroke-linejoin="bevel" d="M324.70,221.21m0.00,-7.50l-1.68,5.18l-5.45,-0.00l4.41,3.20l-1.68,5.18l4.41,-3.20l4.41,3.20l-1.68,-5.18l4.41,-3.20l-5.45,0.00zM346.08,229.24m0.00,-7.50l-1.68,5.18l-5.45,-0.00l4.41,3.20l-1.68,5.18l4.41,-3.20l4.41,3.20l-1.68,-5.18l4.41,-3.20l-5.45,0.00zM367.45,331.76m0.00,-7.50l-1.68,5.18l-5.45,-0.00l4.41,3.20l-1.68,5.18l4.41,-3.20l4.41,3.20l-1.68,-5.18l4.41,-3.20l-5.45,0.00zM388.83,390.80m0.00,-7.50l-1.68,5.18l-5.45,-0.00l4.41,3.20l-1.68,5.18l4.41,-3.20l4.41,3.20l-1.68,-5.18l4.41,-3.20l-5.45,0.00zM410.20,126.10m0.00,-7.50l-1.68,5.18l-5.45,-0.00l4.41,3.20l-1.68,5.18l4.41,-3.20l4.41,3.20l-1.68,-5.18l4.41,-3.20l-5.45,0.00zM431.58,434.90m0.00,-7.50l-1.68,5.18l-5.45,-0.00l4.41,3.20l-1.68,5.18l4.41,-3.20l4.41,3.20l-1.68,-5.18l4.41,-3.20l-5.45,0.00zM452.96,126.10m0.00,-7.50l-1.68,5.18l-5.45,-0.00l4.41,3.20l-1.68,5.18l4.41,-3.20l4.41,3.20l-1.68,-5.18l4.41,-3.20l-5.45,0.00zM474.33,280.50m0.00,-7.50l-1.68,5.18l-5.45,-0.00l4.41,3.20l-1.68,5.18l4.41,-3.20l4.41,3.20l-1.68,-5.18l4.41,-3.20l-5.45,0.00zM495.71,447.25m0.00,-7.50l-1.68,5.18l-5.45,-0.00l4.41,3.20l-1.68,5.18l4.41,-3.20l4.41,3.20l-1.68,-5.18l4.41,-3.20l-5.45,0.00zM517.08,589.30m0.00,-7.50l-1.68,5.18l-5.45,-0.00l4.41,3.20l-1.68,5.18l4.41,-3.20l4.41,3.20l-1.68,-5.18l4.41,-3.20l-5.45,0.00zM538.46,126.10m0.00,-7.50l-1.68,5.18l-5.45,-0.00l4.41,3.20l-1.68,5.18l4.41,-3.20l4.41,3.20l-1.68,-5.18l4.41,-3.20l-5.45,0.00zM559.83,280.50m0.00,-7.50l-1.68,5.18l-5.45,-0.00l4.41,3.20l-1.68,5.18l4.41,-3.20l4.41,3.20l-1.68,-5.18l4.41,-3.20l-5.45,0.00zM581.21,126.10m0.00,-7.50l-1.68,5.18l-5.45,-0.00l4.41,3.20l-1.68,5.18l4.41,-3.20l4.41,3.20l-1.68,-5.18l4.41,-3.20l-5.45,0.00zM602.59,538.04m0.00,-7.50l-1.68,5.18l-5.45,-0.00l4.41,3.20l-1.68,5.18l4.41,-3.20l4.41,3.20l-1.68,-5.18l4.41,-3.20l-5.45,0.00zM623.96,126.10m0.00,-7.50l-1.68,5.18l-5.45,-0.00l4.41,3.20l-1.68,5.18l4.41,-3.20l4.41,3.20l-1.68,-5.18l4.41,-3.20l-5.45,0.00zM645.34,126.10m0.00,-7.50l-1.68,5.18l-5.45,-0.00l4.41,3.20l-1.68,5.18l4.41,-3.20l4.41,3.20l-1.68,-5.18l4.41,-3.20l-5.45,0.00zM666.71,373.14m0.00,-7.50l-1.68,5.18l-5.45,-0.00l4.41,3.20l-1.68,5.18l4.41,-3.20l4.41,3.20l-1.68,-5.18l4.41,-3.20l-5.45,0.00zM688.09,434.90m0.00,-7.50l-1.68,5.18l-5.45,-0.00l4.41,3.20l-1.68,5.18l4.41,-3.20l4.41,3.20l-1.68,-5.18l4.41,-3.20l-5.45,0.00zM709.47,280.50m0.00,-7.50l-1.68,5.18l-5.45,-0.00l4.41,3.20l-1.68,5.18l4.41,-3.20l4.41,3.20l-1.68,-5.18l4.41,-3.20l-5.45,0.00zM730.84,496.66m0.00,-7.50l-1.68,5.18l-5.45,-0.00l4.41,3.20l-1.68,5.18l4.41,-3.20l4.41,3.20l-1.68,-5.18l4.41,-3.20l-5.45,0.00zM752.22,496.66m0.00,-7.50l-1.68,5.18l-5.45,-0.00l4.41,3.20l-1.68,5.18l4.41,-3.20l4.41,3.20l-1.68,-5.18l4.41,-3.20l-5.45,0.00zM773.59,126.10m0.00,-7.50l-1.68,5.18l-5.45,-0.00l4.41,3.20l-1.68,5.18l4.41,-3.20l4.41,3.20l-1.68,-5.18l4.41,-3.20l-5.45,0.00zM794.97,390.80m0.00,-7.50l-1.68,5.18l-5.45,-0.00l4.41,3.20l-1.68,5.18l4.41,-3.20l4.41,3.20l-1.68,-5.18l4.41,-3.20l-5.45,0.00zM816.35,331.76m0.00,-7.50l-1.68,5.18l-5.45,-0.00l4.41,3.20l-1.68,5.18l4.41,-3.20l4.41,3.20l-1.68,-5.18l4.41,-3.20l-5.45,0.00zM837.72,126.10m0.00,-7.50l-1.68,5.18l-5.45,-0.00l4.41,3.20l-1.68,5.18l4.41,-3.20l4.41,3.20l-1.68,-5.18l4.41,-3.20l-5.45,0.00zM859.10,496.66m0.00,-7.50l-1.68,5.18l-5.45,-0.00l4.41,3.20l-1.68,5.18l4.41,-3.20l4.41,3.20l-1.68,-5.18l4.41,-3.20l-5.45,0.00zM880.47,479.00m0.00,-7.50l-1.68,5.18l-5.45,-0.00l4.41,3.20l-1.68,5.18l4.41,-3.20l4.41,3.20l-1.68,-5.18l4.41,-3.20l-5.45,0.00zM901.85,302.55m0.00,-7.50l-1.68,5.18l-5.45,-0.00l4.41,3.20l-1.68,5.18l4.41,-3.20l4.41,3.20l-1.68,-5.18l4.41,-3.20l-5.45,0.00zM923.23,126.10m0.00,-7.50l-1.68,5.18l-5.45,-0.00l4.41,3.20l-1.68,5.18l4.41,-3.20l4.41,3.20l-1.68,-5.18l4.41,-3.20l-5.45,0.00zM944.60,126.10m0.00,-7.50l-1.68,5.18l-5.45,-0.00l4.41,3.20l-1.68,5.18l4.41,-3.20l4.41,3.20l-1.68,-5.18l4.41,-3.20l-5.45,0.00zM965.98,249.62m0.00,-7.50l-1.68,5.18l-5.45,-0.00l4.41,3.20l-1.68,5.18l4.41,-3.20l4.41,3.20l-1.68,-5.18l4.41,-3.20l-5.45,0.00zM987.35,655.44m0.00,-7.50l-1.68,5.18l-5.45,-0.00l4.41,3.20l-1.68,5.18l4.41,-3.20l4.41,3.20l-1.68,-5.18l4.41,-3.20l-5.45,0.00zM1008.73,331.76m0.00,-7.50l-1.68,5.18l-5.45,-0.00l4.41,3.20l-1.68,5.18l4.41,-3.20l4.41,3.20l-1.68,-5.18l4.41,-3.20l-5.45,0.00zM1030.10,357.70m0.00,-7.50l-1.68,5.18l-5.45,-0.00l4.41,3.20l-1.68,5.18l4.41,-3.20l4.41,3.20l-1.68,-5.18l4.41,-3.20l-5.45,0.00zM1051.48,214.42m0.00,-7.50l-1.68,5.18l-5.45,-0.00l4.41,3.20l-1.68,5.18l4.41,-3.20l4.41,3.20l-1.68,-5.18l4.41,-3.20l-5.45,0.00zM1072.86,203.30m0.00,-7.50l-1.68,5.18l-5.45,-0.00l4.41,3.20l-1.68,5.18l4.41,-3.20l4.41,3.20l-1.68,-5.18l4.41,-3.20l-5.45,0.00zM1094.23,126.10m0.00,-7.50l-1.68,5.18l-5.45,-0.00l4.41,3.20l-1.68,5.18l4.41,-3.20l4.41,3.20l-1.68,-5.18l4.41,-3.20l-5.45,0.00zM1115.61,434.90m0.00,-7.50l-1.68,5.18l-5.45,-0.00l4.41,3.20l-1.68,5.18l4.41,-3.20l4.41,3.20l-1.68,-5.18l4.41,-3.20l-5.45,0.00zM1136.98,743.70m0.00,-7.50l-1.68,5.18l-5.45,-0.00l4.41,3.20l-1.68,5.18l4.41,-3.20l4.41,3.20l-1.68,-5.18l4.41,-3.20l-5.45,0.00zM1158.36,553.66m0.00,-7.50l-1.68,5.18l-5.45,-0.00l4.41,3.20l-1.68,5.18l4.41,-3.20l4.41,3.20l-1.68,-5.18l4.41,-3.20l-5.45,0.00zM1179.74,126.10m0.00,-7.50l-1.68,5.18l-5.45,-0.00l4.41,3.20l-1.68,5.18l4.41,-3.20l4.41,3.20l-1.68,-5.18l4.41,-3.20l-5.45,0.00zM1201.11,194.65m0.00,-7.50l-1.68,5.18l-5.45,-0.00l4.41,3.20l-1.68,5.18l4.41,-3.20l4.41,3.20l-1.68,-5.18l4.41,-3.20l-5.45,0.00zM1222.49,126.10m0.00,-7.50l-1.68,5.18l-5.45,-0.00l4.41,3.20l-1.68,5.18l4.41,-3.20l4.41,3.20l-1.68,-5.18l4.41,-3.20l-5.45,0.00zM1243.86,126.10m0.00,-7.50l-1.68,5.18l-5.45,-0.00l4.41,3.20l-1.68,5.18l4.41,-3.20l4.41,3.20l-1.68,-5.18l4.41,-3.20l-5.45,0.00zM1265.24,434.90m0.00,-7.50l-1.68,5.18l-5.45,-0.00l4.41,3.20l-1.68,5.18l4.41,-3.20l4.41,3.20l-1.68,-5.18l4.41,-3.20l-5.45,0.00zM1286.62,311.38m0.00,-7.50l-1.68,5.18l-5.45,-0.00l4.41,3.20l-1.68,5.18l4.41,-3.20l4.41,3.20l-1.68,-5.18l4.41,-3.20l-5.45,0.00zM1307.99,331.76m0.00,-7.50l-1.68,5.18l-5.45,-0.00l4.41,3.20l-1.68,5.18l4.41,-3.20l4.41,3.20l-1.68,-5.18l4.41,-3.20l-5.45,0.00zM1329.37,280.50m0.00,-7.50l-1.68,5.18l-5.45,-0.00l4.41,3.20l-1.68,5.18l4.41,-3.20l4.41,3.20l-1.68,-5.18l4.41,-3.20l-5.45,0.00zM1350.74,280.50m0.00,-7.50l-1.68,5.18l-5.45,-0.00l4.41,3.20l-1.68,5.18l4.41,-3.20l4.41,3.20l-1.68,-5.18l4.41,-3.20l-5.45,0.00zM1372.12,126.10m0.00,-7.50l-1.68,5.18l-5.45,-0.00l4.41,3.20l-1.68,5.18l4.41,-3.20l4.41,3.20l-1.68,-5.18l4.41,-3.20l-5.45,0.00zM1393.49,434.90m0.00,-7.50l-1.68,5.18l-5.45,-0.00l4.41,3.20l-1.68,5.18l4.41,-3.20l4.41,3.20l-1.68,-5.18l4.41,-3.20l-5.45,0.00zM1414.87,158.59m0.00,-7.50l-1.68,5.18l-5.45,-0.00l4.41,3.20l-1.68,5.18l4.41,-3.20l4.41,3.20l-1.68,-5.18l4.41,-3.20l-5.45,0.00zM1436.25,331.76m0.00,-7.50l-1.68,5.18l-5.45,-0.00l4.41,3.20l-1.68,5.18l4.41,-3.20l4.41,3.20l-1.68,-5.18l4.41,-3.20l-5.45,0.00zM1457.62,434.90m0.00,-7.50l-1.68,5.18l-5.45,-0.00l4.41,3.20l-1.68,5.18l4.41,-3.20l4.41,3.20l-1.68,-5.18l4.41,-3.20l-5.45,0.00zM1479.00,434.90m0.00,-7.50l-1.68,5.18l-5.45,-0.00l4.41,3.20l-1.68,5.18l4.41,-3.20l4.41,3.20l-1.68,-5.18l4.41,-3.20l-5.45,0.00zM1500.37,280.50m0.00,-7.50l-1.68,5.18l-5.45,-0.00l4.41,3.20l-1.68,5.18l4.41,-3.20l4.41,3.20l-1.68,-5.18l4.41,-3.20l-5.45,0.00zM1521.75,434.90m0.00,-7.50l-1.68,5.18l-5.45,-0.00l4.41,3.20l-1.68,5.18l4.41,-3.20l4.41,3.20l-1.68,-5.18l4.41,-3.20l-5.45,0.00zM1543.13,126.10m0.00,-7.50l-1.68,5.18l-5.45,-0.00l4.41,3.20l-1.68,5.18l4.41,-3.20l4.41,3.20l-1.68,-5.18l4.41,-3.20l-5.45,0.00zM1564.50,126.10m0.00,-7.50l-1.68,5.18l-5.45,-0.00l4.41,3.20l-1.68,5.18l4.41,-3.20l4.41,3.20l-1.68,-5.18l4.41,-3.20l-5.45,0.00zM1585.88,331.76m0.00,-7.50l-1.68,5.18l-5.45,-0.00l4.41,3.20l-1.68,5.18l4.41,-3.20l4.41,3.20l-1.68,-5.18l4.41,-3.20l-5.45,0.00zM1607.25,280.50m0.00,-7.50l-1.68,5.18l-5.45,-0.00l4.41,3.20l-1.68,5.18l4.41,-3.20l4.41,3.20l-1.68,-5.18l4.41,-3.20l-5.45,0.00zM1628.63,280.50m0.00,-7.50l-1.68,5.18l-5.45,-0.00l4.41,3.20l-1.68,5.18l4.41,-3.20l4.41,3.20l-1.68,-5.18l4.41,-3.20l-5.45,0.00zM1650.01,249.62m0.00,-7.50l-1.68,5.18l-5.45,-0.00l4.41,3.20l-1.68,5.18l4.41,-3.20l4.41,3.20l-1.68,-5.18l4.41,-3.20l-5.45,0.00zM1671.38,357.70m0.00,-7.50l-1.68,5.18l-5.45,-0.00l4.41,3.20l-1.68,5.18l4.41,-3.20l4.41,3.20l-1.68,-5.18l4.41,-3.20l-5.45,0.00zM1692.76,331.76m0.00,-7.50l-1.68,5.18l-5.45,-0.00l4.41,3.20l-1.68,5.18l4.41,-3.20l4.41,3.20l-1.68,-5.18l4.41,-3.20l-5.45,0.00zM1714.13,280.50m0.00,-7.50l-1.68,5.18l-5.45,-0.00l4.41,3.20l-1.68,5.18l4.41,-3.20l4.41,3.20l-1.68,-5.18l4.41,-3.20l-5.45,0.00zM1735.51,126.10m0.00,-7.50l-1.68,5.18l-5.45,-0.00l4.41,3.20l-1.68,5.18l4.41,-3.20l4.41,3.20l-1.68,-5.18l4.41,-3.20l-5.45,0.00zM1756.88,434.90m0.00,-7.50l-1.68,5.18l-5.45,-0.00l4.41,3.20l-1.68,5.18l4.41,-3.20l4.41,3.20l-1.68,-5.18l4.41,-3.20l-5.45,0.00zM1778.26,126.10m0.00,-7.50l-1.68,5.18l-5.45,-0.00l4.41,3.20l-1.68,5.18l4.41,-3.20l4.41,3.20l-1.68,-5.18l4.41,-3.20l-5.45,0.00zM1799.64,249.62m0.00,-7.50l-1.68,5.18l-5.45,-0.00l4.41,3.20l-1.68,5.18l4.41,-3.20l4.41,3.20l-1.68,-5.18l4.41,-3.20l-5.45,0.00zM1821.01,187.86m0.00,-7.50l-1.68,5.18l-5.45,-0.00l4.41,3.20l-1.68,5.18l4.41,-3.20l4.41,3.20l-1.68,-5.18l4.41,-3.20l-5.45,0.00zM1842.39,214.42m0.00,-7.50l-1.68,5.18l-5.45,-0.00l4.41,3.20l-1.68,5.18l4.41,-3.20l4.41,3.20l-1.68,-5.18l4.41,-3.20l-5.45,0.00zM1863.76,434.90m0.00,-7.50l-1.68,5.18l-5.45,-0.00l4.41,3.20l-1.68,5.18l4.41,-3.20l4.41,3.20l-1.68,-5.18l4.41,-3.20l-5.45,0.00zM1885.14,126.10m0.00,-7.50l-1.68,5.18l-5.45,-0.00l4.41,3.20l-1.68,5.18l4.41,-3.20l4.41,3.20l-1.68,-5.18l4.41,-3.20l-5.45,0.00zM1906.52,214.42m0.00,-7.50l-1.68,5.18l-5.45,-0.00l4.41,3.20l-1.68,5.18l4.41,-3.20l4.41,3.20l-1.68,-5.18l4.41,-3.20l-5.45,0.00zM1927.89,214.42m0.00,-7.50l-1.68,5.18l-5.45,-0.00l4.41,3.20l-1.68,5.18l4.41,-3.20l4.41,3.20l-1.68,-5.18l4.41,-3.20l-5.45,0.00zM1949.27,214.42m0.00,-7.50l-1.68,5.18l-5.45,-0.00l4.41,3.20l-1.68,5.18l4.41,-3.20l4.41,3.20l-1.68,-5.18l4.41,-3.20l-5.45,0.00zM1970.64,126.10m0.00,-7.50l-1.68,5.18l-5.45,-0.00l4.41,3.20l-1.68,5.18l4.41,-3.20l4.41,3.20l-1.68,-5.18l4.41,-3.20l-5.45,0.00zM1992.02,538.04m0.00,-7.50l-1.68,5.18l-5.45,-0.00l4.41,3.20l-1.68,5.18l4.41,-3.20l4.41,3.20l-1.68,-5.18l4.41,-3.20l-5.45,0.00zM2013.40,249.62m0.00,-7.50l-1.68,5.18l-5.45,-0.00l4.41,3.20l-1.68,5.18l4.41,-3.20l4.41,3.20l-1.68,-5.18l4.41,-3.20l-5.45,0.00zM2034.77,434.90m0.00,-7.50l-1.68,5.18l-5.45,-0.00l4.41,3.20l-1.68,5.18l4.41,-3.20l4.41,3.20l-1.68,-5.18l4.41,-3.20l-5.45,0.00zM2056.15,434.90m0.00,-7.50l-1.68,5.18l-5.45,-0.00l4.41,3.20l-1.68,5.18l4.41,-3.20l4.41,3.20l-1.68,-5.18l4.41,-3.20l-5.45,0.00zM2077.52,126.10m0.00,-7.50l-1.68,5.18l-5.45,-0.00l4.41,3.20l-1.68,5.18l4.41,-3.20l4.41,3.20l-1.68,-5.18l4.41,-3.20l-5.45,0.00zM2098.90,434.90m0.00,-7.50l-1.68,5.18l-5.45,-0.00l4.41,3.20l-1.68,5.18l4.41,-3.20l4.41,3.20l-1.68,-5.18l4.41,-3.20l-5.45,0.00zM2120.28,390.80m0.00,-7.50l-1.68,5.18l-5.45,-0.00l4.41,3.20l-1.68,5.18l4.41,-3.20l4.41,3.20l-1.68,-5.18l4.41,-3.20l-5.45,0.00zM2141.65,126.10m0.00,-7.50l-1.68,5.18l-5.45,-0.00l4.41,3.20l-1.68,5.18l4.41,-3.20l4.41,3.20l-1.68,-5.18l4.41,-3.20l-5.45,0.00zM2163.03,434.90m0.00,-7.50l-1.68,5.18l-5.45,-0.00l4.41,3.20l-1.68,5.18l4.41,-3.20l4.41,3.20l-1.68,-5.18l4.41,-3.20l-5.45,0.00zM2184.40,280.50m0.00,-7.50l-1.68,5.18l-5.45,-0.00l4.41,3.20l-1.68,5.18l4.41,-3.20l4.41,3.20l-1.68,-5.18l4.41,-3.20l-5.45,0.00zM2205.78,126.10m0.00,-7.50l-1.68,5.18l-5.45,-0.00l4.41,3.20l-1.68,5.18l4.41,-3.20l4.41,3.20l-1.68,-5.18l4.41,-3.20l-5.45,0.00zM2227.15,373.14m0.00,-7.50l-1.68,5.18l-5.45,-0.00l4.41,3.20l-1.68,5.18l4.41,-3.20l4.41,3.20l-1.68,-5.18l4.41,-3.20l-5.45,0.00z"/><polyline fill="none" stroke="#800080" stroke-width="5.00" stroke-linejoin="round" stroke-linecap="square" points="324.70,332.00 346.08,239.64 367.45,294.41 388.83,294.55 410.20,126.10 431.58,537.83 452.96,214.33 474.33,280.50 495.71,363.66 517.08,655.47 538.46,182.37 559.83,280.50 581.21,496.66 602.59,538.04 623.96,331.97 645.34,435.13 666.71,331.97 688.09,373.14 709.47,280.50 730.84,469.21 752.22,434.84 773.59,126.10 794.97,294.55 816.35,353.54 837.72,126.10 859.10,390.79 880.47,458.64 901.85,380.40 923.23,126.10 944.60,126.10 965.98,194.72 987.35,678.70 1008.73,390.71 1030.10,268.62 1051.48,307.78 1072.86,263.34 1094.23,331.97 1115.61,373.14 1136.98,743.70 1158.36,508.42 1179.74,126.10 1201.11,162.39 1222.49,331.97 1243.86,214.33 1265.24,537.83 1286.62,311.38 1307.99,249.47 1329.37,280.50 1350.74,280.50 1372.12,126.10 1393.49,400.59 1414.87,201.40 1436.25,249.47 1457.62,373.14 1479.00,537.83 1500.37,280.50 1521.75,434.90 1543.13,126.10 1564.50,194.72 1585.88,469.35 1607.25,280.50 1628.63,214.33 1650.01,194.72 1671.38,302.63 1692.76,390.71 1714.13,280.50 1735.51,126.10 1756.88,537.83 1778.26,331.97 1799.64,294.41 1821.01,187.86 1842.39,249.66 1863.76,434.90 1885.14,331.97 1906.52,173.66 1927.89,173.66 1949.27,173.66 1970.64,126.10 1992.02,567.32 2013.40,194.72 2034.77,434.90 2056.15,373.14 2077.52,496.66 2098.90,331.97 2120.28,363.56 2141.65,496.66 2163.03,434.90 2184.40,214.33 2205.78,126.10 2227.15,331.97"/><path fill="#800080" stroke="#800080" stroke-width="2.50" stroke-linejoin="bevel" d="M324.70,332.00m0.00,-7.50l-1.68,5.18l-5.45,-0.00l4.41,3.20l-1.68,5.18l4.41,-3.20l4.41,3.20l-1.68,-5.18l4.41,-3.20l-5.45,0.00zM346.08,239.64m0.00,-7.50l-1.68,5.18l-5.45,-0.00l4.41,3.20l-1.68,5.18l4.41,-3.20l4.41,3.20l-1.68,-5.18l4.41,-3.20l-5.45,0.00zM367.45,294.41m0.00,-7.50l-1.68,5.18l-5.45,-0.00l4.41,3.20l-1.68,5.18l4.41,-3.20l4.41,3.20l-1.68,-5.18l4.41,-3.20l-5.45,0.00zM388.83,294.55m0.00,-7.50l-1.68,5.18l-5.45,-0.00l4.41,3.20l-1.68,5.18l4.41,-3.20l4.41,3.20l-1.68,-5.18l4.41,-3.20l-5.45,0.00zM410.20,126.10m0.00,-7.50l-1.68,5.18l-5.45,-0.00l4.41,3.20l-1.68,5.18l4.41,-3.20l4.41,3.20l-1.68,-5.18l4.41,-3.20l-5.45,0.00zM431.58,537.83m0.00,-7.50l-1.68,5.18l-5.45,-0.00l4.41,3.20l-1.68,5.18l4.41,-3.20l4.41,3.20l-1.68,-5.18l4.41,-3.20l-5.45,0.00zM452.96,214.33m0.00,-7.50l-1.68,5.18l-5.45,-0.00l4.41,3.20l-1.68,5.18l4.41,-3.20l4.41,3.20l-1.68,-5.18l4.41,-3.20l-5.45,0.00zM474.33,280.50m0.00,-7.50l-1.68,5.18l-5.45,-0.00l4.41,3.20l-1.68,5.18l4.41,-3.20l4.41,3.20l-1.68,-5.18l4.41,-3.20l-5.45,0.00zM495.71,363.66m0.00,-7.50l-1.68,5.18l-5.45,-0.00l4.41,3.20l-1.68,5.18l4.41,-3.20l4.41,3.20l-1.68,-5.18l4.41,-3.20l-5.45,0.00zM517.08,655.47m0.00,-7.50l-1.68,5.18l-5.45,-0.00l4.41,3.20l-1.68,5.18l4.41,-3.20l4.41,3.20l-1.68,-5.18l4.41,-3.20l-5.45,0.00zM538.46,182.37m0.00,-7.50l-1.68,5.18l-5.45,-0.00l4.41,3.20l-1.68,5.18l4.41,-3.20l4.41,3.20l-1.68,-5.18l4.41,-3.20l-5.45,0.00zM559.83,280.50m0.00,-7.50l-1.68,5.18l-5.45,-0.00l4.41,3.20l-1.68,5.18l4.41,-3.20l4.41,3.20l-1.68,-5.18l4.41,-3.20l-5.45,0.00zM581.21,496.66m0.00,-7.50l-1.68,5.18l-5.45,-0.00l4.41,3.20l-1.68,5.18l4.41,-3.20l4.41,3.20l-1.68,-5.18l4.41,-3.20l-5.45,0.00zM602.59,538.04m0.00,-7.50l-1.68,5.18l-5.45,-0.00l4.41,3.20l-1.68,5.18l4.41,-3.20l4.41,3.20l-1.68,-5.18l4.41,-3.20l-5.45,0.00zM623.96,331.97m0.00,-7.50l-1.68,5.18l-5.45,-0.00l4.41,3.20l-1.68,5.18l4.41,-3.20l4.41,3.20l-1.68,-5.18l4.41,-3.20l-5.45,0.00zM645.34,435.13m0.00,-7.50l-1.68,5.18l-5.45,-0.00l4.41,3.20l-1.68,5.18l4.41,-3.20l4.41,3.20l-1.68,-5.18l4.41,-3.20l-5.45,0.00zM666.71,331.97m0.00,-7.50l-1.68,5.18l-5.45,-0.00l4.41,3.20l-1.68,5.18l4.41,-3.20l4.41,3.20l-1.68,-5.18l4.41,-3.20l-5.45,0.00zM688.09,373.14m0.00,-7.50l-1.68,5.18l-5.45,-0.00l4.41,3.20l-1.68,5.18l4.41,-3.20l4.41,3.20l-1.68,-5.18l4.41,-3.20l-5.45,0.00zM709.47,280.50m0.00,-7.50l-1.68,5.18l-5.45,-0.00l4.41,3.20l-1.68,5.18l4.41,-3.20l4.41,3.20l-1.68,-5.18l4.41,-3.20l-5.45,0.00zM730.84,469.21m0.00,-7.50l-1.68,5.18l-5.45,-0.00l4.41,3.20l-1.68,5.18l4.41,-3.20l4.41,3.20l-1.68,-5.18l4.41,-3.20l-5.45,0.00zM752.22,434.84m0.00,-7.50l-1.68,5.18l-5.45,-0.00l4.41,3.20l-1.68,5.18l4.41,-3.20l4.41,3.20l-1.68,-5.18l4.41,-3.20l-5.45,0.00zM773.59,126.10m0.00,-7.50l-1.68,5.18l-5.45,-0.00l4.41,3.20l-1.68,5.18l4.41,-3.20l4.41,3.20l-1.68,-5.18l4.41,-3.20l-5.45,0.00zM794.97,294.55m0.00,-7.50l-1.68,5.18l-5.45,-0.00l4.41,3.20l-1.68,5.18l4.41,-3.20l4.41,3.20l-1.68,-5.18l4.41,-3.20l-5.45,0.00zM816.35,353.54m0.00,-7.50l-1.68,5.18l-5.45,-0.00l4.41,3.20l-1.68,5.18l4.41,-3.20l4.41,3.20l-1.68,-5.18l4.41,-3.20l-5.45,0.00zM837.72,126.10m0.00,-7.50l-1.68,5.18l-5.45,-0.00l4.41,3.20l-1.68,5.18l4.41,-3.20l4.41,3.20l-1.68,-5.18l4.41,-3.20l-5.45,0.00zM859.10,390.79m0.00,-7.50l-1.68,5.18l-5.45,-0.00l4.41,3.20l-1.68,5.18l4.41,-3.20l4.41,3.20l-1.68,-5.18l4.41,-3.20l-5.45,0.00zM880.47,458.64m0.00,-7.50l-1.68,5.18l-5.45,-0.00l4.41,3.20l-1.68,5.18l4.41,-3.20l4.41,3.20l-1.68,-5.18l4.41,-3.20l-5.45,0.00zM901.85,380.40m0.00,-7.50l-1.68,5.18l-5.45,-0.00l4.41,3.20l-1.68,5.18l4.41,-3.20l4.41,3.20l-1.68,-5.18l4.41,-3.20l-5.45,0.00zM923.23,126.10m0.00,-7.50l-1.68,5.18l-5.45,-0.00l4.41,3.20l-1.68,5.18l4.41,-3.20l4.41,3.20l-1.68,-5.18l4.41,-3.20l-5.45,0.00zM944.60,126.10m0.00,-7.50l-1.68,5.18l-5.45,-0.00l4.41,3.20l-1.68,5.18l4.41,-3.20l4.41,3.20l-1.68,-5.18l4.41,-3.20l-5.45,0.00zM965.98,194.72m0.00,-7.50l-1.68,5.18l-5.45,-0.00l4.41,3.20l-1.68,5.18l4.41,-3.20l4.41,3.20l-1.68,-5.18l4.41,-3.20l-5.45,0.00zM987.35,678.70m0.00,-7.50l-1.68,5.18l-5.45,-0.00l4.41,3.20l-1.68,5.18l4.41,-3.20l4.41,3.20l-1.68,-5.18l4.41,-3.20l-5.45,0.00zM1008.73,390.71m0.00,-7.50l-1.68,5.18l-5.45,-0.00l4.41,3.20l-1.68,5.18l4.41,-3.20l4.41,3.20l-1.68,-5.18l4.41,-3.20l-5.45,0.00zM1030.10,268.62m0.00,-7.50l-1.68,5.18l-5.45,-0.00l4.41,3.20l-1.68,5.18l4.41,-3.20l4.41,3.20l-1.68,-5.18l4.41,-3.20l-5.45,0.00zM1051.48,307.78m0.00,-7.50l-1.68,5.18l-5.45,-0.00l4.41,3.20l-1.68,5.18l4.41,-3.20l4.41,3.20l-1.68,-5.18l4.41,-3.20l-5.45,0.00zM1072.86,263.34m0.00,-7.50l-1.68,5.18l-5.45,-0.00l4.41,3.20l-1.68,5.18l4.41,-3.20l4.41,3.20l-1.68,-5.18l4.41,-3.20l-5.45,0.00zM1094.23,331.97m0.00,-7.50l-1.68,5.18l-5.45,-0.00l4.41,3.20l-1.68,5.18l4.41,-3.20l4.41,3.20l-1.68,-5.18l4.41,-3.20l-5.45,0.00zM1115.61,373.14m0.00,-7.50l-1.68,5.18l-5.45,-0.00l4.41,3.20l-1.68,5.18l4.41,-3.20l4.41,3.20l-1.68,-5.18l4.41,-3.20l-5.45,0.00zM1136.98,743.70m0.00,-7.50l-1.68,5.18l-5.45,-0.00l4.41,3.20l-1.68,5.18l4.41,-3.20l4.41,3.20l-1.68,-5.18l4.41,-3.20l-5.45,0.00zM1158.36,508.42m0.00,-7.50l-1.68,5.18l-5.45,-0.00l4.41,3.20l-1.68,5.18l4.41,-3.20l4.41,3.20l-1.68,-5.18l4.41,-3.20l-5.45,0.00zM1179.74,126.10m0.00,-7.50l-1.68,5.18l-5.45,-0.00l4.41,3.20l-1.68,5.18l4.41,-3.20l4.41,3.20l-1.68,-5.18l4.41,-3.20l-5.45,0.00zM1201.11,162.39m0.00,-7.50l-1.68,5.18l-5.45,-0.00l4.41,3.20l-1.68,5.18l4.41,-3.20l4.41,3.20l-1.68,-5.18l4.41,-3.20l-5.45,0.00zM1222.49,331.97m0.00,-7.50l-1.68,5.18l-5.45,-0.00l4.41,3.20l-1.68,5.18l4.41,-3.20l4.41,3.20l-1.68,-5.18l4.41,-3.20l-5.45,0.00zM1243.86,214.33m0.00,-7.50l-1.68,5.18l-5.45,-0.00l4.41,3.20l-1.68,5.18l4.41,-3.20l4.41,3.20l-1.68,-5.18l4.41,-3.20l-5.45,0.00zM1265.24,537.83m0.00,-7.50l-1.68,5.18l-5.45,-0.00l4.41,3.20l-1.68,5.18l4.41,-3.20l4.41,3.20l-1.68,-5.18l4.41,-3.20l-5.45,0.00zM1286.62,311.38m0.00,-7.50l-1.68,5.18l-5.45,-0.00l4.41,3.20l-1.68,5.18l4.41,-3.20l4.41,3.20l-1.68,-5.18l4.41,-3.20l-5.45,0.00zM1307.99,249.47m0.00,-7.50l-1.68,5.18l-5.45,-0.00l4.41,3.20l-1.68,5.18l4.41,-3.20l4.41,3.20l-1.68,-5.18l4.41,-3.20l-5.45,0.00zM1329.37,280.50m0.00,-7.50l-1.68,5.18l-5.45,-0.00l4.41,3.20l-1.68,5.18l4.41,-3.20l4.41,3.20l-1.68,-5.18l4.41,-3.20l-5.45,0.00zM1350.74,280.50m0.00,-7.50l-1.68,5.18l-5.45,-0.00l4.41,3.20l-1.68,5.18l4.41,-3.20l4.41,3.20l-1.68,-5.18l4.41,-3.20l-5.45,0.00zM1372.12,126.10m0.00,-7.50l-1.68,5.18l-5.45,-0.00l4.41,3.20l-1.68,5.18l4.41,-3.20l4.41,3.20l-1.68,-5.18l4.41,-3.20l-5.45,0.00zM1393.49,400.59m0.00,-7.50l-1.68,5.18l-5.45,-0.00l4.41,3.20l-1.68,5.18l4.41,-3.20l4.41,3.20l-1.68,-5.18l4.41,-3.20l-5.45,0.00zM1414.87,201.40m0.00,-7.50l-1.68,5.18l-5.45,-0.00l4.41,3.20l-1.68,5.18l4.41,-3.20l4.41,3.20l-1.68,-5.18l4.41,-3.20l-5.45,0.00zM1436.25,249.47m0.00,-7.50l-1.68,5.18l-5.45,-0.00l4.41,3.20l-1.68,5.18l4.41,-3.20l4.41,3.20l-1.68,-5.18l4.41,-3.20l-5.45,0.00zM1457.62,373.14m0.00,-7.50l-1.68,5.18l-5.45,-0.00l4.41,3.20l-1.68,5.18l4.41,-3.20l4.41,3.20l-1.68,-5.18l4.41,-3.20l-5.45,0.00zM1479.00,537.83m0.00,-7.50l-1.68,5.18l-5.45,-0.00l4.41,3.20l-1.68,5.18l4.41,-3.20l4.41,3.20l-1.68,-5.18l4.41,-3.20l-5.45,0.00zM1500.37,280.50m0.00,-7.50l-1.68,5.18l-5.45,-0.00l4.41,3.20l-1.68,5.18l4.41,-3.20l4.41,3.20l-1.68,-5.18l4.41,-3.20l-5.45,0.00zM1521.75,434.90m0.00,-7.50l-1.68,5.18l-5.45,-0.00l4.41,3.20l-1.68,5.18l4.41,-3.20l4.41,3.20l-1.68,-5.18l4.41,-3.20l-5.45,0.00zM1543.13,126.10m0.00,-7.50l-1.68,5.18l-5.45,-0.00l4.41,3.20l-1.68,5.18l4.41,-3.20l4.41,3.20l-1.68,-5.18l4.41,-3.20l-5.45,0.00zM1564.50,194.72m0.00,-7.50l-1.68,5.18l-5.45,-0.00l4.41,3.20l-1.68,5.18l4.41,-3.20l4.41,3.20l-1.68,-5.18l4.41,-3.20l-5.45,0.00zM1585.88,469.35m0.00,-7.50l-1.68,5.18l-5.45,-0.00l4.41,3.20l-1.68,5.18l4.41,-3.20l4.41,3.20l-1.68,-5.18l4.41,-3.20l-5.45,0.00zM1607.25,280.50m0.00,-7.50l-1.68,5.18l-5.45,-0.00l4.41,3.20l-1.68,5.18l4.41,-3.20l4.41,3.20l-1.68,-5.18l4.41,-3.20l-5.45,0.00zM1628.63,214.33m0.00,-7.50l-1.68,5.18l-5.45,-0.00l4.41,3.20l-1.68,5.18l4.41,-3.20l4.41,3.20l-1.68,-5.18l4.41,-3.20l-5.45,0.00zM1650.01,194.72m0.00,-7.50l-1.68,5.18l-5.45,-0.00l4.41,3.20l-1.68,5.18l4.41,-3.20l4.41,3.20l-1.68,-5.18l4.41,-3.20l-5.45,0.00zM1671.38,302.63m0.00,-7.50l-1.68,5.18l-5.45,-0.00l4.41,3.20l-1.68,5.18l4.41,-3.20l4.41,3.20l-1.68,-5.18l4.41,-3.20l-5.45,0.00zM1692.76,390.71m0.00,-7.50l-1.68,5.18l-5.45,-0.00l4.41,3.20l-1.68,5.18l4.41,-3.20l4.41,3.20l-1.68,-5.18l4.41,-3.20l-5.45,0.00zM1714.13,280.50m0.00,-7.50l-1.68,5.18l-5.45,-0.00l4.41,3.20l-1.68,5.18l4.41,-3.20l4.41,3.20l-1.68,-5.18l4.41,-3.20l-5.45,0.00zM1735.51,126.10m0.00,-7.50l-1.68,5.18l-5.45,-0.00l4.41,3.20l-1.68,5.18l4.41,-3.20l4.41,3.20l-1.68,-5.18l4.41,-3.20l-5.45,0.00zM1756.88,537.83m0.00,-7.50l-1.68,5.18l-5.45,-0.00l4.41,3.20l-1.68,5.18l4.41,-3.20l4.41,3.20l-1.68,-5.18l4.41,-3.20l-5.45,0.00zM1778.26,331.97m0.00,-7.50l-1.68,5.18l-5.45,-0.00l4.41,3.20l-1.68,5.18l4.41,-3.20l4.41,3.20l-1.68,-5.18l4.41,-3.20l-5.45,0.00zM1799.64,294.41m0.00,-7.50l-1.68,5.18l-5.45,-0.00l4.41,3.20l-1.68,5.18l4.41,-3.20l4.41,3.20l-1.68,-5.18l4.41,-3.20l-5.45,0.00zM1821.01,187.86m0.00,-7.50l-1.68,5.18l-5.45,-0.00l4.41,3.20l-1.68,5.18l4.41,-3.20l4.41,3.20l-1.68,-5.18l4.41,-3.20l-5.45,0.00zM1842.39,249.66m0.00,-7.50l-1.68,5.18l-5.45,-0.00l4.41,3.20l-1.68,5.18l4.41,-3.20l4.41,3.20l-1.68,-5.18l4.41,-3.20l-5.45,0.00zM1863.76,434.90m0.00,-7.50l-1.68,5.18l-5.45,-0.00l4.41,3.20l-1.68,5.18l4.41,-3.20l4.41,3.20l-1.68,-5.18l4.41,-3.20l-5.45,0.00zM1885.14,331.97m0.00,-7.50l-1.68,5.18l-5.45,-0.00l4.41,3.20l-1.68,5.18l4.41,-3.20l4.41,3.20l-1.68,-5.18l4.41,-3.20l-5.45,0.00zM1906.52,173.66m0.00,-7.50l-1.68,5.18l-5.45,-0.00l4.41,3.20l-1.68,5.18l4.41,-3.20l4.41,3.20l-1.68,-5.18l4.41,-3.20l-5.45,0.00zM1927.89,173.66m0.00,-7.50l-1.68,5.18l-5.45,-0.00l4.41,3.20l-1.68,5.18l4.41,-3.20l4.41,3.20l-1.68,-5.18l4.41,-3.20l-5.45,0.00zM1949.27,173.66m0.00,-7.50l-1.68,5.18l-5.45,-0.00l4.41,3.20l-1.68,5.18l4.41,-3.20l4.41,3.20l-1.68,-5.18l4.41,-3.20l-5.45,0.00zM1970.64,126.10m0.00,-7.50l-1.68,5.18l-5.45,-0.00l4.41,3.20l-1.68,5.18l4.41,-3.20l4.41,3.20l-1.68,-5.18l4.41,-3.20l-5.45,0.00zM1992.02,567.32m0.00,-7.50l-1.68,5.18l-5.45,-0.00l4.41,3.20l-1.68,5.18l4.41,-3.20l4.41,3.20l-1.68,-5.18l4.41,-3.20l-5.45,0.00zM2013.40,194.72m0.00,-7.50l-1.68,5.18l-5.45,-0.00l4.41,3.20l-1.68,5.18l4.41,-3.20l4.41,3.20l-1.68,-5.18l4.41,-3.20l-5.45,0.00zM2034.77,434.90m0.00,-7.50l-1.68,5.18l-5.45,-0.00l4.41,3.20l-1.68,5.18l4.41,-3.20l4.41,3.20l-1.68,-5.18l4.41,-3.20l-5.45,0.00zM2056.15,373.14m0.00,-7.50l-1.68,5.18l-5.45,-0.00l4.41,3.20l-1.68,5.18l4.41,-3.20l4.41,3.20l-1.68,-5.18l4.41,-3.20l-5.45,0.00zM2077.52,496.66m0.00,-7.50l-1.68,5.18l-5.45,-0.00l4.41,3.20l-1.68,5.18l4.41,-3.20l4.41,3.20l-1.68,-5.18l4.41,-3.20l-5.45,0.00zM2098.90,331.97m0.00,-7.50l-1.68,5.18l-5.45,-0.00l4.41,3.20l-1.68,5.18l4.41,-3.20l4.41,3.20l-1.68,-5.18l4.41,-3.20l-5.45,0.00zM2120.28,363.56m0.00,-7.50l-1.68,5.18l-5.45,-0.00l4.41,3.20l-1.68,5.18l4.41,-3.20l4.41,3.20l-1.68,-5.18l4.41,-3.20l-5.45,0.00zM2141.65,496.66m0.00,-7.50l-1.68,5.18l-5.45,-0.00l4.41,3.20l-1.68,5.18l4.41,-3.20l4.41,3.20l-1.68,-5.18l4.41,-3.20l-5.45,0.00zM2163.03,434.90m0.00,-7.50l-1.68,5.18l-5.45,-0.00l4.41,3.20l-1.68,5.18l4.41,-3.20l4.41,3.20l-1.68,-5.18l4.41,-3.20l-5.45,0.00zM2184.40,214.33m0.00,-7.50l-1.68,5.18l-5.45,-0.00l4.41,3.20l-1.68,5.18l4.41,-3.20l4.41,3.20l-1.68,-5.18l4.41,-3.20l-5.45,0.00zM2205.78,126.10m0.00,-7.50l-1.68,5.18l-5.45,-0.00l4.41,3.20l-1.68,5.18l4.41,-3.20l4.41,3.20l-1.68,-5.18l4.41,-3.20l-5.45,0.00zM2227.15,331.97m0.00,-7.50l-1.68,5.18l-5.45,-0.00l4.41,3.20l-1.68,5.18l4.41,-3.20l4.41,3.20l-1.68,-5.18l4.41,-3.20l-5.45,0.00z"/><rect x="229.60" y="95.20" width="2092.70" height="679.40" fill="none" stroke="#000" stroke-width="2"/><path stroke="#000" stroke-width="2" fill="none" d="M324.70,774.60v8.75M752.22,774.60v8.75M1179.74,774.60v8.75M1607.25,774.60v8.75M2034.77,774.60v8.75M229.60,743.70h-8.75M229.60,620.18h-8.75M229.60,496.66h-8.75M229.60,373.14h-8.75M229.60,249.62h-8.75M229.60,126.10h-8.75"/><g style="font-family:'DejaVu Sans',sans-serif;font-size:50px" fill="#000"><text x="324.70" y="830.20" text-anchor="middle">0</text><text x="752.22" y="830.20" text-anchor="middle">20</text><text x="1179.74" y="830.20" text-anchor="middle">40</text><text x="1607.25" y="830.20" text-anchor="middle">60</text><text x="2034.77" y="830.20" text-anchor="middle">80</text><text x="212.10" y="763.00" text-anchor="end">0</text><text x="212.10" y="639.48" text-anchor="end">20</text><text x="212.10" y="515.96" text-anchor="end">40</text><text x="212.10" y="392.44" text-anchor="end">60</text><text x="212.10" y="268.92" text-anchor="end">80</text><text x="212.10" y="145.40" text-anchor="end">100</text><text x="1276.65" y="80.20" text-anchor="middle">Classification Report of VGG-19 for ECG-ID database</text><text x="1275.95" y="889.20" text-anchor="middle">Person ID</text><text x="96" y="434.90" text-anchor="middle" transform="rotate(-90 96 434.90)">Percentage (%)</text></g><rect x="1859.30" y="441.00" width="438.00" height="308.60" rx="10" ry="10" fill="#fff" fill-opacity="0.8" stroke="#ccc" stroke-opacity="0.8" stroke-width="2.5"/><line x1="1879.30" y1="481.50" x2="1979.30" y2="481.50" stroke="#0a1268" stroke-width="5.00" stroke-linecap="square"/><path fill="#0a1268" stroke="#0a1268" stroke-width="2.50" stroke-linejoin="bevel" d="M1929.30,481.50m0.00,-7.50l-1.68,5.18l-5.45,-0.00l4.41,3.20l-1.68,5.18l4.41,-3.20l4.41,3.20l-1.68,-5.18l4.41,-3.20l-5.45,0.00z"/><line x1="1879.30" y1="555.00" x2="1979.30" y2="555.00" stroke="#008000" stroke-width="5.00" stroke-linecap="square"/><path fill="#008000" stroke="#008000" stroke-width="2.50" stroke-linejoin="bevel" d="M1929.30,555.00m0.00,-7.50l-1.68,5.18l-5.45,-0.00l4.41,3.20l-1.68,5.18l4.41,-3.20l4.41,3.20l-1.68,-5.18l4.41,-3.20l-5.45,0.00z"/><line x1="1879.30" y1="628.50" x2="1979.30" y2="628.50" stroke="#800000" stroke-width="5.00" stroke-linecap="square"/><path fill="#800000" stroke="#800000" stroke-width="2.50" stroke-linejoin="bevel" d="M1929.30,628.50m0.00,-7.50l-1.68,5.18l-5.45,-0.00l4.41,3.20l-1.68,5.18l4.41,-3.20l4.41,3.20l-1.68,-5.18l4.41,-3.20l-5.45,0.00z"/><line x1="1879.30" y1="702.00" x2="1979.30" y2="702.00" stroke="#800080" stroke-width="5.00" stroke-linecap="square"/><path fill="#800080" stroke="#800080" stroke-width="2.50" stroke-linejoin="bevel" d="M1929.30,702.00m0.00,-7.50l-1.68,5.18l-5.45,-0.00l4.41,3.20l-1.68,5.18l4.41,-3.20l4.41,3.20l-1.68,-5.18l4.41,-3.20l-5.45,0.00z"/><g style="font-family:'DejaVu Sans',sans-serif;font-size:50px" fill="#000"><text x="2019.30" y="498.90">Specificity</text><text x="2019.30" y="573.30">Recall</text><text x="2019.30" y="645.80">Precision</text><text x="2019.30" y="720.50">F1 score</text></g><text y="1015.80" style="font-family:'Liberation Serif',serif;font-size:84.7px" fill="#000"><tspan x="1143.40">(</tspan><tspan x="1170.00" dy="1.50" font-weight="bold">a</tspan><tspan x="1211.65" dy="-1.50">)</tspan></text></g><g><polyline fill="none" stroke="#0a1268" stroke-width="5.00" stroke-linejoin="round" stroke-linecap="square" points="324.70,1226.90 365.18,1226.90 405.66,1226.90 446.13,1226.90 486.61,1237.16 527.09,1228.57 567.57,1229.29 608.04,1226.90 648.52,1229.29 689.00,1226.90 729.48,1228.09 769.96,1228.09 810.43,1228.09 850.91,1228.09 891.39,1228.09 931.87,1228.09 972.34,1228.09 1012.82,1228.09 1053.30,1228.09 1093.78,1228.09 1134.26,1226.90 1174.73,1228.09 1215.21,1226.90 1255.69,1234.06 1296.17,1241.70 1336.64,1228.09 1377.12,1233.11 1417.60,1228.09 1458.08,1237.16 1498.55,1232.63 1539.03,1228.09 1579.51,1229.53 1619.99,1228.09 1660.47,1228.09 1700.94,1228.09 1741.42,1228.09 1781.90,1232.63 1822.38,1229.29 1862.85,1228.09 1903.33,1229.53 1943.81,1229.53 1984.29,1229.53 2024.77,1232.63 2065.24,1233.58 2105.72,1229.29 2146.20,1230.96 2186.68,1230.48 2227.15,1226.90"/><path fill="#0a1268" stroke="#0a1268" stroke-width="2.50" stroke-linejoin="bevel" d="M324.70,1226.90m0.00,-7.50l-1.68,5.18l-5.45,-0.00l4.41,3.20l-1.68,5.18l4.41,-3.20l4.41,3.20l-1.68,-5.18l4.41,-3.20l-5.45,0.00zM365.18,1226.90m0.00,-7.50l-1.68,5.18l-5.45,-0.00l4.41,3.20l-1.68,5.18l4.41,-3.20l4.41,3.20l-1.68,-5.18l4.41,-3.20l-5.45,0.00zM405.66,1226.90m0.00,-7.50l-1.68,5.18l-5.45,-0.00l4.41,3.20l-1.68,5.18l4.41,-3.20l4.41,3.20l-1.68,-5.18l4.41,-3.20l-5.45,0.00zM446.13,1226.90m0.00,-7.50l-1.68,5.18l-5.45,-0.00l4.41,3.20l-1.68,5.18l4.41,-3.20l4.41,3.20l-1.68,-5.18l4.41,-3.20l-5.45,0.00zM486.61,1237.16m0.00,-7.50l-1.68,5.18l-5.45,-0.00l4.41,3.20l-1.68,5.18l4.41,-3.20l4.41,3.20l-1.68,-5.18l4.41,-3.20l-5.45,0.00zM527.09,1228.57m0.00,-7.50l-1.68,5.18l-5.45,-0.00l4.41,3.20l-1.68,5.18l4.41,-3.20l4.41,3.20l-1.68,-5.18l4.41,-3.20l-5.45,0.00zM567.57,1229.29m0.00,-7.50l-1.68,5.18l-5.45,-0.00l4.41,3.20l-1.68,5.18l4.41,-3.20l4.41,3.20l-1.68,-5.18l4.41,-3.20l-5.45,0.00zM608.04,1226.90m0.00,-7.50l-1.68,5.18l-5.45,-0.00l4.41,3.20l-1.68,5.18l4.41,-3.20l4.41,3.20l-1.68,-5.18l4.41,-3.20l-5.45,0.00zM648.52,1229.29m0.00,-7.50l-1.68,5.18l-5.45,-0.00l4.41,3.20l-1.68,5.18l4.41,-3.20l4.41,3.20l-1.68,-5.18l4.41,-3.20l-5.45,0.00zM689.00,1226.90m0.00,-7.50l-1.68,5.18l-5.45,-0.00l4.41,3.20l-1.68,5.18l4.41,-3.20l4.41,3.20l-1.68,-5.18l4.41,-3.20l-5.45,0.00zM729.48,1228.09m0.00,-7.50l-1.68,5.18l-5.45,-0.00l4.41,3.20l-1.68,5.18l4.41,-3.20l4.41,3.20l-1.68,-5.18l4.41,-3.20l-5.45,0.00zM769.96,1228.09m0.00,-7.50l-1.68,5.18l-5.45,-0.00l4.41,3.20l-1.68,5.18l4.41,-3.20l4.41,3.20l-1.68,-5.18l4.41,-3.20l-5.45,0.00zM810.43,1228.09m0.00,-7.50l-1.68,5.18l-5.45,-0.00l4.41,3.20l-1.68,5.18l4.41,-3.20l4.41,3.20l-1.68,-5.18l4.41,-3.20l-5.45,0.00zM850.91,1228.09m0.00,-7.50l-1.68,5.18l-5.45,-0.00l4.41,3.20l-1.68,5.18l4.41,-3.20l4.41,3.20l-1.68,-5.18l4.41,-3.20l-5.45,0.00zM891.39,1228.09m0.00,-7.50l-1.68,5.18l-5.45,-0.00l4.41,3.20l-1.68,5.18l4.41,-3.20l4.41,3.20l-1.68,-5.18l4.41,-3.20l-5.45,0.00zM931.87,1228.09m0.00,-7.50l-1.68,5.18l-5.45,-0.00l4.41,3.20l-1.68,5.18l4.41,-3.20l4.41,3.20l-1.68,-5.18l4.41,-3.20l-5.45,0.00zM972.34,1228.09m0.00,-7.50l-1.68,5.18l-5.45,-0.00l4.41,3.20l-1.68,5.18l4.41,-3.20l4.41,3.20l-1.68,-5.18l4.41,-3.20l-5.45,0.00zM1012.82,1228.09m0.00,-7.50l-1.68,5.18l-5.45,-0.00l4.41,3.20l-1.68,5.18l4.41,-3.20l4.41,3.20l-1.68,-5.18l4.41,-3.20l-5.45,0.00zM1053.30,1228.09m0.00,-7.50l-1.68,5.18l-5.45,-0.00l4.41,3.20l-1.68,5.18l4.41,-3.20l4.41,3.20l-1.68,-5.18l4.41,-3.20l-5.45,0.00zM1093.78,1228.09m0.00,-7.50l-1.68,5.18l-5.45,-0.00l4.41,3.20l-1.68,5.18l4.41,-3.20l4.41,3.20l-1.68,-5.18l4.41,-3.20l-5.45,0.00zM1134.26,1226.90m0.00,-7.50l-1.68,5.18l-5.45,-0.00l4.41,3.20l-1.68,5.18l4.41,-3.20l4.41,3.20l-1.68,-5.18l4.41,-3.20l-5.45,0.00zM1174.73,1228.09m0.00,-7.50l-1.68,5.18l-5.45,-0.00l4.41,3.20l-1.68,5.18l4.41,-3.20l4.41,3.20l-1.68,-5.18l4.41,-3.20l-5.45,0.00zM1215.21,1226.90m0.00,-7.50l-1.68,5.18l-5.45,-0.00l4.41,3.20l-1.68,5.18l4.41,-3.20l4.41,3.20l-1.68,-5.18l4.41,-3.20l-5.45,0.00zM1255.69,1234.06m0.00,-7.50l-1.68,5.18l-5.45,-0.00l4.41,3.20l-1.68,5.18l4.41,-3.20l4.41,3.20l-1.68,-5.18l4.41,-3.20l-5.45,0.00zM1296.17,1241.70m0.00,-7.50l-1.68,5.18l-5.45,-0.00l4.41,3.20l-1.68,5.18l4.41,-3.20l4.41,3.20l-1.68,-5.18l4.41,-3.20l-5.45,0.00zM1336.64,1228.09m0.00,-7.50l-1.68,5.18l-5.45,-0.00l4.41,3.20l-1.68,5.18l4.41,-3.20l4.41,3.20l-1.68,-5.18l4.41,-3.20l-5.45,0.00zM1377.12,1233.11m0.00,-7.50l-1.68,5.18l-5.45,-0.00l4.41,3.20l-1.68,5.18l4.41,-3.20l4.41,3.20l-1.68,-5.18l4.41,-3.20l-5.45,0.00zM1417.60,1228.09m0.00,-7.50l-1.68,5.18l-5.45,-0.00l4.41,3.20l-1.68,5.18l4.41,-3.20l4.41,3.20l-1.68,-5.18l4.41,-3.20l-5.45,0.00zM1458.08,1237.16m0.00,-7.50l-1.68,5.18l-5.45,-0.00l4.41,3.20l-1.68,5.18l4.41,-3.20l4.41,3.20l-1.68,-5.18l4.41,-3.20l-5.45,0.00zM1498.55,1232.63m0.00,-7.50l-1.68,5.18l-5.45,-0.00l4.41,3.20l-1.68,5.18l4.41,-3.20l4.41,3.20l-1.68,-5.18l4.41,-3.20l-5.45,0.00zM1539.03,1228.09m0.00,-7.50l-1.68,5.18l-5.45,-0.00l4.41,3.20l-1.68,5.18l4.41,-3.20l4.41,3.20l-1.68,-5.18l4.41,-3.20l-5.45,0.00zM1579.51,1229.53m0.00,-7.50l-1.68,5.18l-5.45,-0.00l4.41,3.20l-1.68,5.18l4.41,-3.20l4.41,3.20l-1.68,-5.18l4.41,-3.20l-5.45,0.00zM1619.99,1228.09m0.00,-7.50l-1.68,5.18l-5.45,-0.00l4.41,3.20l-1.68,5.18l4.41,-3.20l4.41,3.20l-1.68,-5.18l4.41,-3.20l-5.45,0.00zM1660.47,1228.09m0.00,-7.50l-1.68,5.18l-5.45,-0.00l4.41,3.20l-1.68,5.18l4.41,-3.20l4.41,3.20l-1.68,-5.18l4.41,-3.20l-5.45,0.00zM1700.94,1228.09m0.00,-7.50l-1.68,5.18l-5.45,-0.00l4.41,3.20l-1.68,5.18l4.41,-3.20l4.41,3.20l-1.68,-5.18l4.41,-3.20l-5.45,0.00zM1741.42,1228.09m0.00,-7.50l-1.68,5.18l-5.45,-0.00l4.41,3.20l-1.68,5.18l4.41,-3.20l4.41,3.20l-1.68,-5.18l4.41,-3.20l-5.45,0.00zM1781.90,1232.63m0.00,-7.50l-1.68,5.18l-5.45,-0.00l4.41,3.20l-1.68,5.18l4.41,-3.20l4.41,3.20l-1.68,-5.18l4.41,-3.20l-5.45,0.00zM1822.38,1229.29m0.00,-7.50l-1.68,5.18l-5.45,-0.00l4.41,3.20l-1.68,5.18l4.41,-3.20l4.41,3.20l-1.68,-5.18l4.41,-3.20l-5.45,0.00zM1862.85,1228.09m0.00,-7.50l-1.68,5.18l-5.45,-0.00l4.41,3.20l-1.68,5.18l4.41,-3.20l4.41,3.20l-1.68,-5.18l4.41,-3.20l-5.45,0.00zM1903.33,1229.53m0.00,-7.50l-1.68,5.18l-5.45,-0.00l4.41,3.20l-1.68,5.18l4.41,-3.20l4.41,3.20l-1.68,-5.18l4.41,-3.20l-5.45,0.00zM1943.81,1229.53m0.00,-7.50l-1.68,5.18l-5.45,-0.00l4.41,3.20l-1.68,5.18l4.41,-3.20l4.41,3.20l-1.68,-5.18l4.41,-3.20l-5.45,0.00zM1984.29,1229.53m0.00,-7.50l-1.68,5.18l-5.45,-0.00l4.41,3.20l-1.68,5.18l4.41,-3.20l4.41,3.20l-1.68,-5.18l4.41,-3.20l-5.45,0.00zM2024.77,1232.63m0.00,-7.50l-1.68,5.18l-5.45,-0.00l4.41,3.20l-1.68,5.18l4.41,-3.20l4.41,3.20l-1.68,-5.18l4.41,-3.20l-5.45,0.00zM2065.24,1233.58m0.00,-7.50l-1.68,5.18l-5.45,-0.00l4.41,3.20l-1.68,5.18l4.41,-3.20l4.41,3.20l-1.68,-5.18l4.41,-3.20l-5.45,0.00zM2105.72,1229.29m0.00,-7.50l-1.68,5.18l-5.45,-0.00l4.41,3.20l-1.68,5.18l4.41,-3.20l4.41,3.20l-1.68,-5.18l4.41,-3.20l-5.45,0.00zM2146.20,1230.96m0.00,-7.50l-1.68,5.18l-5.45,-0.00l4.41,3.20l-1.68,5.18l4.41,-3.20l4.41,3.20l-1.68,-5.18l4.41,-3.20l-5.45,0.00zM2186.68,1230.48m0.00,-7.50l-1.68,5.18l-5.45,-0.00l4.41,3.20l-1.68,5.18l4.41,-3.20l4.41,3.20l-1.68,-5.18l4.41,-3.20l-5.45,0.00zM2227.15,1226.90m0.00,-7.50l-1.68,5.18l-5.45,-0.00l4.41,3.20l-1.68,5.18l4.41,-3.20l4.41,3.20l-1.68,-5.18l4.41,-3.20l-5.45,0.00z"/><polyline fill="none" stroke="#008000" stroke-width="5.00" stroke-linejoin="round" stroke-linecap="square" points="324.70,1253.87 365.18,1267.48 405.66,1267.48 446.13,1226.90 486.61,1495.65 527.09,1291.82 567.57,1358.89 608.04,1320.70 648.52,1319.27 689.00,1253.87 729.48,1253.15 769.96,1240.27 810.43,1226.90 850.91,1264.61 891.39,1226.90 931.87,1226.90 972.34,1226.90 1012.82,1279.65 1053.30,1293.49 1093.78,1238.83 1134.26,1226.90 1174.73,1238.83 1215.21,1320.70 1255.69,1615.95 1296.17,1615.95 1336.64,1696.62 1377.12,1547.45 1417.60,1299.46 1458.08,1441.00 1498.55,1427.39 1539.03,1413.55 1579.51,1468.44 1619.99,1252.44 1660.47,1305.66 1700.94,1535.27 1741.42,1295.16 1781.90,1347.67 1822.38,1267.48 1862.85,1348.15 1903.33,1494.22 1943.81,1441.00 1984.29,1441.00 2024.77,1401.38 2065.24,1374.17 2105.72,1279.65 2146.20,1332.87 2186.68,1386.34 2227.15,1253.87"/><path fill="#008000" stroke="#008000" stroke-width="2.50" stroke-linejoin="bevel" d="M324.70,1253.87m0.00,-7.50l-1.68,5.18l-5.45,-0.00l4.41,3.20l-1.68,5.18l4.41,-3.20l4.41,3.20l-1.68,-5.18l4.41,-3.20l-5.45,0.00zM365.18,1267.48m0.00,-7.50l-1.68,5.18l-5.45,-0.00l4.41,3.20l-1.68,5.18l4.41,-3.20l4.41,3.20l-1.68,-5.18l4.41,-3.20l-5.45,0.00zM405.66,1267.48m0.00,-7.50l-1.68,5.18l-5.45,-0.00l4.41,3.20l-1.68,5.18l4.41,-3.20l4.41,3.20l-1.68,-5.18l4.41,-3.20l-5.45,0.00zM446.13,1226.90m0.00,-7.50l-1.68,5.18l-5.45,-0.00l4.41,3.20l-1.68,5.18l4.41,-3.20l4.41,3.20l-1.68,-5.18l4.41,-3.20l-5.45,0.00zM486.61,1495.65m0.00,-7.50l-1.68,5.18l-5.45,-0.00l4.41,3.20l-1.68,5.18l4.41,-3.20l4.41,3.20l-1.68,-5.18l4.41,-3.20l-5.45,0.00zM527.09,1291.82m0.00,-7.50l-1.68,5.18l-5.45,-0.00l4.41,3.20l-1.68,5.18l4.41,-3.20l4.41,3.20l-1.68,-5.18l4.41,-3.20l-5.45,0.00zM567.57,1358.89m0.00,-7.50l-1.68,5.18l-5.45,-0.00l4.41,3.20l-1.68,5.18l4.41,-3.20l4.41,3.20l-1.68,-5.18l4.41,-3.20l-5.45,0.00zM608.04,1320.70m0.00,-7.50l-1.68,5.18l-5.45,-0.00l4.41,3.20l-1.68,5.18l4.41,-3.20l4.41,3.20l-1.68,-5.18l4.41,-3.20l-5.45,0.00zM648.52,1319.27m0.00,-7.50l-1.68,5.18l-5.45,-0.00l4.41,3.20l-1.68,5.18l4.41,-3.20l4.41,3.20l-1.68,-5.18l4.41,-3.20l-5.45,0.00zM689.00,1253.87m0.00,-7.50l-1.68,5.18l-5.45,-0.00l4.41,3.20l-1.68,5.18l4.41,-3.20l4.41,3.20l-1.68,-5.18l4.41,-3.20l-5.45,0.00zM729.48,1253.15m0.00,-7.50l-1.68,5.18l-5.45,-0.00l4.41,3.20l-1.68,5.18l4.41,-3.20l4.41,3.20l-1.68,-5.18l4.41,-3.20l-5.45,0.00zM769.96,1240.27m0.00,-7.50l-1.68,5.18l-5.45,-0.00l4.41,3.20l-1.68,5.18l4.41,-3.20l4.41,3.20l-1.68,-5.18l4.41,-3.20l-5.45,0.00zM810.43,1226.90m0.00,-7.50l-1.68,5.18l-5.45,-0.00l4.41,3.20l-1.68,5.18l4.41,-3.20l4.41,3.20l-1.68,-5.18l4.41,-3.20l-5.45,0.00zM850.91,1264.61m0.00,-7.50l-1.68,5.18l-5.45,-0.00l4.41,3.20l-1.68,5.18l4.41,-3.20l4.41,3.20l-1.68,-5.18l4.41,-3.20l-5.45,0.00zM891.39,1226.90m0.00,-7.50l-1.68,5.18l-5.45,-0.00l4.41,3.20l-1.68,5.18l4.41,-3.20l4.41,3.20l-1.68,-5.18l4.41,-3.20l-5.45,0.00zM931.87,1226.90m0.00,-7.50l-1.68,5.18l-5.45,-0.00l4.41,3.20l-1.68,5.18l4.41,-3.20l4.41,3.20l-1.68,-5.18l4.41,-3.20l-5.45,0.00zM972.34,1226.90m0.00,-7.50l-1.68,5.18l-5.45,-0.00l4.41,3.20l-1.68,5.18l4.41,-3.20l4.41,3.20l-1.68,-5.18l4.41,-3.20l-5.45,0.00zM1012.82,1279.65m0.00,-7.50l-1.68,5.18l-5.45,-0.00l4.41,3.20l-1.68,5.18l4.41,-3.20l4.41,3.20l-1.68,-5.18l4.41,-3.20l-5.45,0.00zM1053.30,1293.49m0.00,-7.50l-1.68,5.18l-5.45,-0.00l4.41,3.20l-1.68,5.18l4.41,-3.20l4.41,3.20l-1.68,-5.18l4.41,-3.20l-5.45,0.00zM1093.78,1238.83m0.00,-7.50l-1.68,5.18l-5.45,-0.00l4.41,3.20l-1.68,5.18l4.41,-3.20l4.41,3.20l-1.68,-5.18l4.41,-3.20l-5.45,0.00zM1134.26,1226.90m0.00,-7.50l-1.68,5.18l-5.45,-0.00l4.41,3.20l-1.68,5.18l4.41,-3.20l4.41,3.20l-1.68,-5.18l4.41,-3.20l-5.45,0.00zM1174.73,1238.83m0.00,-7.50l-1.68,5.18l-5.45,-0.00l4.41,3.20l-1.68,5.18l4.41,-3.20l4.41,3.20l-1.68,-5.18l4.41,-3.20l-5.45,0.00zM1215.21,1320.70m0.00,-7.50l-1.68,5.18l-5.45,-0.00l4.41,3.20l-1.68,5.18l4.41,-3.20l4.41,3.20l-1.68,-5.18l4.41,-3.20l-5.45,0.00zM1255.69,1615.95m0.00,-7.50l-1.68,5.18l-5.45,-0.00l4.41,3.20l-1.68,5.18l4.41,-3.20l4.41,3.20l-1.68,-5.18l4.41,-3.20l-5.45,0.00zM1296.17,1615.95m0.00,-7.50l-1.68,5.18l-5.45,-0.00l4.41,3.20l-1.68,5.18l4.41,-3.20l4.41,3.20l-1.68,-5.18l4.41,-3.20l-5.45,0.00zM1336.64,1696.62m0.00,-7.50l-1.68,5.18l-5.45,-0.00l4.41,3.20l-1.68,5.18l4.41,-3.20l4.41,3.20l-1.68,-5.18l4.41,-3.20l-5.45,0.00zM1377.12,1547.45m0.00,-7.50l-1.68,5.18l-5.45,-0.00l4.41,3.20l-1.68,5.18l4.41,-3.20l4.41,3.20l-1.68,-5.18l4.41,-3.20l-5.45,0.00zM1417.60,1299.46m0.00,-7.50l-1.68,5.18l-5.45,-0.00l4.41,3.20l-1.68,5.18l4.41,-3.20l4.41,3.20l-1.68,-5.18l4.41,-3.20l-5.45,0.00zM1458.08,1441.00m0.00,-7.50l-1.68,5.18l-5.45,-0.00l4.41,3.20l-1.68,5.18l4.41,-3.20l4.41,3.20l-1.68,-5.18l4.41,-3.20l-5.45,0.00zM1498.55,1427.39m0.00,-7.50l-1.68,5.18l-5.45,-0.00l4.41,3.20l-1.68,5.18l4.41,-3.20l4.41,3.20l-1.68,-5.18l4.41,-3.20l-5.45,0.00zM1539.03,1413.55m0.00,-7.50l-1.68,5.18l-5.45,-0.00l4.41,3.20l-1.68,5.18l4.41,-3.20l4.41,3.20l-1.68,-5.18l4.41,-3.20l-5.45,0.00zM1579.51,1468.44m0.00,-7.50l-1.68,5.18l-5.45,-0.00l4.41,3.20l-1.68,5.18l4.41,-3.20l4.41,3.20l-1.68,-5.18l4.41,-3.20l-5.45,0.00zM1619.99,1252.44m0.00,-7.50l-1.68,5.18l-5.45,-0.00l4.41,3.20l-1.68,5.18l4.41,-3.20l4.41,3.20l-1.68,-5.18l4.41,-3.20l-5.45,0.00zM1660.47,1305.66m0.00,-7.50l-1.68,5.18l-5.45,-0.00l4.41,3.20l-1.68,5.18l4.41,-3.20l4.41,3.20l-1.68,-5.18l4.41,-3.20l-5.45,0.00zM1700.94,1535.27m0.00,-7.50l-1.68,5.18l-5.45,-0.00l4.41,3.20l-1.68,5.18l4.41,-3.20l4.41,3.20l-1.68,-5.18l4.41,-3.20l-5.45,0.00zM1741.42,1295.16m0.00,-7.50l-1.68,5.18l-5.45,-0.00l4.41,3.20l-1.68,5.18l4.41,-3.20l4.41,3.20l-1.68,-5.18l4.41,-3.20l-5.45,0.00zM1781.90,1347.67m0.00,-7.50l-1.68,5.18l-5.45,-0.00l4.41,3.20l-1.68,5.18l4.41,-3.20l4.41,3.20l-1.68,-5.18l4.41,-3.20l-5.45,0.00zM1822.38,1267.48m0.00,-7.50l-1.68,5.18l-5.45,-0.00l4.41,3.20l-1.68,5.18l4.41,-3.20l4.41,3.20l-1.68,-5.18l4.41,-3.20l-5.45,0.00zM1862.85,1348.15m0.00,-7.50l-1.68,5.18l-5.45,-0.00l4.41,3.20l-1.68,5.18l4.41,-3.20l4.41,3.20l-1.68,-5.18l4.41,-3.20l-5.45,0.00zM1903.33,1494.22m0.00,-7.50l-1.68,5.18l-5.45,-0.00l4.41,3.20l-1.68,5.18l4.41,-3.20l4.41,3.20l-1.68,-5.18l4.41,-3.20l-5.45,0.00zM1943.81,1441.00m0.00,-7.50l-1.68,5.18l-5.45,-0.00l4.41,3.20l-1.68,5.18l4.41,-3.20l4.41,3.20l-1.68,-5.18l4.41,-3.20l-5.45,0.00zM1984.29,1441.00m0.00,-7.50l-1.68,5.18l-5.45,-0.00l4.41,3.20l-1.68,5.18l4.41,-3.20l4.41,3.20l-1.68,-5.18l4.41,-3.20l-5.45,0.00zM2024.77,1401.38m0.00,-7.50l-1.68,5.18l-5.45,-0.00l4.41,3.20l-1.68,5.18l4.41,-3.20l4.41,3.20l-1.68,-5.18l4.41,-3.20l-5.45,0.00zM2065.24,1374.17m0.00,-7.50l-1.68,5.18l-5.45,-0.00l4.41,3.20l-1.68,5.18l4.41,-3.20l4.41,3.20l-1.68,-5.18l4.41,-3.20l-5.45,0.00zM2105.72,1279.65m0.00,-7.50l-1.68,5.18l-5.45,-0.00l4.41,3.20l-1.68,5.18l4.41,-3.20l4.41,3.20l-1.68,-5.18l4.41,-3.20l-5.45,0.00zM2146.20,1332.87m0.00,-7.50l-1.68,5.18l-5.45,-0.00l4.41,3.20l-1.68,5.18l4.41,-3.20l4.41,3.20l-1.68,-5.18l4.41,-3.20l-5.45,0.00zM2186.68,1386.34m0.00,-7.50l-1.68,5.18l-5.45,-0.00l4.41,3.20l-1.68,5.18l4.41,-3.20l4.41,3.20l-1.68,-5.18l4.41,-3.20l-5.45,0.00zM2227.15,1253.87m0.00,-7.50l-1.68,5.18l-5.45,-0.00l4.41,3.20l-1.68,5.18l4.41,-3.20l4.41,3.20l-1.68,-5.18l4.41,-3.20l-5.45,0.00z"/><polyline fill="none" stroke="#800000" stroke-width="5.00" stroke-linejoin="round" stroke-linecap="square" points="324.70,1253.87 365.18,1226.90 405.66,1240.27 446.13,1240.27 486.61,1650.80 527.09,1279.89 567.57,1374.17 608.04,1226.90 648.52,1334.31 689.00,1226.90 729.48,1267.48 769.96,1267.48 810.43,1266.04 850.91,1281.32 891.39,1266.04 931.87,1291.82 972.34,1240.27 1012.82,1253.87 1053.30,1267.48 1093.78,1266.04 1134.26,1226.90 1174.73,1279.65 1215.21,1240.27 1255.69,1547.45 1296.17,1844.13 1336.64,1291.82 1377.12,1536.95 1417.60,1253.87 1458.08,1641.73 1498.55,1465.34 1539.03,1269.15 1579.51,1392.31 1619.99,1267.48 1660.47,1281.32 1700.94,1287.29 1741.42,1316.17 1781.90,1457.70 1822.38,1305.66 1862.85,1253.87 1903.33,1342.18 1943.81,1352.68 1984.29,1378.70 2024.77,1518.57 2065.24,1526.20 2105.72,1355.79 2146.20,1442.67 2186.68,1399.94 2227.15,1253.87"/><path fill="#800000" stroke="#800000" stroke-width="2.50" stroke-linejoin="bevel" d="M324.70,1253.87m0.00,-7.50l-1.68,5.18l-5.45,-0.00l4.41,3.20l-1.68,5.18l4.41,-3.20l4.41,3.20l-1.68,-5.18l4.41,-3.20l-5.45,0.00zM365.18,1226.90m0.00,-7.50l-1.68,5.18l-5.45,-0.00l4.41,3.20l-1.68,5.18l4.41,-3.20l4.41,3.20l-1.68,-5.18l4.41,-3.20l-5.45,0.00zM405.66,1240.27m0.00,-7.50l-1.68,5.18l-5.45,-0.00l4.41,3.20l-1.68,5.18l4.41,-3.20l4.41,3.20l-1.68,-5.18l4.41,-3.20l-5.45,0.00zM446.13,1240.27m0.00,-7.50l-1.68,5.18l-5.45,-0.00l4.41,3.20l-1.68,5.18l4.41,-3.20l4.41,3.20l-1.68,-5.18l4.41,-3.20l-5.45,0.00zM486.61,1650.80m0.00,-7.50l-1.68,5.18l-5.45,-0.00l4.41,3.20l-1.68,5.18l4.41,-3.20l4.41,3.20l-1.68,-5.18l4.41,-3.20l-5.45,0.00zM527.09,1279.89m0.00,-7.50l-1.68,5.18l-5.45,-0.00l4.41,3.20l-1.68,5.18l4.41,-3.20l4.41,3.20l-1.68,-5.18l4.41,-3.20l-5.45,0.00zM567.57,1374.17m0.00,-7.50l-1.68,5.18l-5.45,-0.00l4.41,3.20l-1.68,5.18l4.41,-3.20l4.41,3.20l-1.68,-5.18l4.41,-3.20l-5.45,0.00zM608.04,1226.90m0.00,-7.50l-1.68,5.18l-5.45,-0.00l4.41,3.20l-1.68,5.18l4.41,-3.20l4.41,3.20l-1.68,-5.18l4.41,-3.20l-5.45,0.00zM648.52,1334.31m0.00,-7.50l-1.68,5.18l-5.45,-0.00l4.41,3.20l-1.68,5.18l4.41,-3.20l4.41,3.20l-1.68,-5.18l4.41,-3.20l-5.45,0.00zM689.00,1226.90m0.00,-7.50l-1.68,5.18l-5.45,-0.00l4.41,3.20l-1.68,5.18l4.41,-3.20l4.41,3.20l-1.68,-5.18l4.41,-3.20l-5.45,0.00zM729.48,1267.48m0.00,-7.50l-1.68,5.18l-5.45,-0.00l4.41,3.20l-1.68,5.18l4.41,-3.20l4.41,3.20l-1.68,-5.18l4.41,-3.20l-5.45,0.00zM769.96,1267.48m0.00,-7.50l-1.68,5.18l-5.45,-0.00l4.41,3.20l-1.68,5.18l4.41,-3.20l4.41,3.20l-1.68,-5.18l4.41,-3.20l-5.45,0.00zM810.43,1266.04m0.00,-7.50l-1.68,5.18l-5.45,-0.00l4.41,3.20l-1.68,5.18l4.41,-3.20l4.41,3.20l-1.68,-5.18l4.41,-3.20l-5.45,0.00zM850.91,1281.32m0.00,-7.50l-1.68,5.18l-5.45,-0.00l4.41,3.20l-1.68,5.18l4.41,-3.20l4.41,3.20l-1.68,-5.18l4.41,-3.20l-5.45,0.00zM891.39,1266.04m0.00,-7.50l-1.68,5.18l-5.45,-0.00l4.41,3.20l-1.68,5.18l4.41,-3.20l4.41,3.20l-1.68,-5.18l4.41,-3.20l-5.45,0.00zM931.87,1291.82m0.00,-7.50l-1.68,5.18l-5.45,-0.00l4.41,3.20l-1.68,5.18l4.41,-3.20l4.41,3.20l-1.68,-5.18l4.41,-3.20l-5.45,0.00zM972.34,1240.27m0.00,-7.50l-1.68,5.18l-5.45,-0.00l4.41,3.20l-1.68,5.18l4.41,-3.20l4.41,3.20l-1.68,-5.18l4.41,-3.20l-5.45,0.00zM1012.82,1253.87m0.00,-7.50l-1.68,5.18l-5.45,-0.00l4.41,3.20l-1.68,5.18l4.41,-3.20l4.41,3.20l-1.68,-5.18l4.41,-3.20l-5.45,0.00zM1053.30,1267.48m0.00,-7.50l-1.68,5.18l-5.45,-0.00l4.41,3.20l-1.68,5.18l4.41,-3.20l4.41,3.20l-1.68,-5.18l4.41,-3.20l-5.45,0.00zM1093.78,1266.04m0.00,-7.50l-1.68,5.18l-5.45,-0.00l4.41,3.20l-1.68,5.18l4.41,-3.20l4.41,3.20l-1.68,-5.18l4.41,-3.20l-5.45,0.00zM1134.26,1226.90m0.00,-7.50l-1.68,5.18l-5.45,-0.00l4.41,3.20l-1.68,5.18l4.41,-3.20l4.41,3.20l-1.68,-5.18l4.41,-3.20l-5.45,0.00zM1174.73,1279.65m0.00,-7.50l-1.68,5.18l-5.45,-0.00l4.41,3.20l-1.68,5.18l4.41,-3.20l4.41,3.20l-1.68,-5.18l4.41,-3.20l-5.45,0.00zM1215.21,1240.27m0.00,-7.50l-1.68,5.18l-5.45,-0.00l4.41,3.20l-1.68,5.18l4.41,-3.20l4.41,3.20l-1.68,-5.18l4.41,-3.20l-5.45,0.00zM1255.69,1547.45m0.00,-7.50l-1.68,5.18l-5.45,-0.00l4.41,3.20l-1.68,5.18l4.41,-3.20l4.41,3.20l-1.68,-5.18l4.41,-3.20l-5.45,0.00zM1296.17,1844.13m0.00,-7.50l-1.68,5.18l-5.45,-0.00l4.41,3.20l-1.68,5.18l4.41,-3.20l4.41,3.20l-1.68,-5.18l4.41,-3.20l-5.45,0.00zM1336.64,1291.82m0.00,-7.50l-1.68,5.18l-5.45,-0.00l4.41,3.20l-1.68,5.18l4.41,-3.20l4.41,3.20l-1.68,-5.18l4.41,-3.20l-5.45,0.00zM1377.12,1536.95m0.00,-7.50l-1.68,5.18l-5.45,-0.00l4.41,3.20l-1.68,5.18l4.41,-3.20l4.41,3.20l-1.68,-5.18l4.41,-3.20l-5.45,0.00zM1417.60,1253.87m0.00,-7.50l-1.68,5.18l-5.45,-0.00l4.41,3.20l-1.68,5.18l4.41,-3.20l4.41,3.20l-1.68,-5.18l4.41,-3.20l-5.45,0.00zM1458.08,1641.73m0.00,-7.50l-1.68,5.18l-5.45,-0.00l4.41,3.20l-1.68,5.18l4.41,-3.20l4.41,3.20l-1.68,-5.18l4.41,-3.20l-5.45,0.00zM1498.55,1465.34m0.00,-7.50l-1.68,5.18l-5.45,-0.00l4.41,3.20l-1.68,5.18l4.41,-3.20l4.41,3.20l-1.68,-5.18l4.41,-3.20l-5.45,0.00zM1539.03,1269.15m0.00,-7.50l-1.68,5.18l-5.45,-0.00l4.41,3.20l-1.68,5.18l4.41,-3.20l4.41,3.20l-1.68,-5.18l4.41,-3.20l-5.45,0.00zM1579.51,1392.31m0.00,-7.50l-1.68,5.18l-5.45,-0.00l4.41,3.20l-1.68,5.18l4.41,-3.20l4.41,3.20l-1.68,-5.18l4.41,-3.20l-5.45,0.00zM1619.99,1267.48m0.00,-7.50l-1.68,5.18l-5.45,-0.00l4.41,3.20l-1.68,5.18l4.41,-3.20l4.41,3.20l-1.68,-5.18l4.41,-3.20l-5.45,0.00zM1660.47,1281.32m0.00,-7.50l-1.68,5.18l-5.45,-0.00l4.41,3.20l-1.68,5.18l4.41,-3.20l4.41,3.20l-1.68,-5.18l4.41,-3.20l-5.45,0.00zM1700.94,1287.29m0.00,-7.50l-1.68,5.18l-5.45,-0.00l4.41,3.20l-1.68,5.18l4.41,-3.20l4.41,3.20l-1.68,-5.18l4.41,-3.20l-5.45,0.00zM1741.42,1316.17m0.00,-7.50l-1.68,5.18l-5.45,-0.00l4.41,3.20l-1.68,5.18l4.41,-3.20l4.41,3.20l-1.68,-5.18l4.41,-3.20l-5.45,0.00zM1781.90,1457.70m0.00,-7.50l-1.68,5.18l-5.45,-0.00l4.41,3.20l-1.68,5.18l4.41,-3.20l4.41,3.20l-1.68,-5.18l4.41,-3.20l-5.45,0.00zM1822.38,1305.66m0.00,-7.50l-1.68,5.18l-5.45,-0.00l4.41,3.20l-1.68,5.18l4.41,-3.20l4.41,3.20l-1.68,-5.18l4.41,-3.20l-5.45,0.00zM1862.85,1253.87m0.00,-7.50l-1.68,5.18l-5.45,-0.00l4.41,3.20l-1.68,5.18l4.41,-3.20l4.41,3.20l-1.68,-5.18l4.41,-3.20l-5.45,0.00zM1903.33,1342.18m0.00,-7.50l-1.68,5.18l-5.45,-0.00l4.41,3.20l-1.68,5.18l4.41,-3.20l4.41,3.20l-1.68,-5.18l4.41,-3.20l-5.45,0.00zM1943.81,1352.68m0.00,-7.50l-1.68,5.18l-5.45,-0.00l4.41,3.20l-1.68,5.18l4.41,-3.20l4.41,3.20l-1.68,-5.18l4.41,-3.20l-5.45,0.00zM1984.29,1378.70m0.00,-7.50l-1.68,5.18l-5.45,-0.00l4.41,3.20l-1.68,5.18l4.41,-3.20l4.41,3.20l-1.68,-5.18l4.41,-3.20l-5.45,0.00zM2024.77,1518.57m0.00,-7.50l-1.68,5.18l-5.45,-0.00l4.41,3.20l-1.68,5.18l4.41,-3.20l4.41,3.20l-1.68,-5.18l4.41,-3.20l-5.45,0.00zM2065.24,1526.20m0.00,-7.50l-1.68,5.18l-5.45,-0.00l4.41,3.20l-1.68,5.18l4.41,-3.20l4.41,3.20l-1.68,-5.18l4.41,-3.20l-5.45,0.00zM2105.72,1355.79m0.00,-7.50l-1.68,5.18l-5.45,-0.00l4.41,3.20l-1.68,5.18l4.41,-3.20l4.41,3.20l-1.68,-5.18l4.41,-3.20l-5.45,0.00zM2146.20,1442.67m0.00,-7.50l-1.68,5.18l-5.45,-0.00l4.41,3.20l-1.68,5.18l4.41,-3.20l4.41,3.20l-1.68,-5.18l4.41,-3.20l-5.45,0.00zM2186.68,1399.94m0.00,-7.50l-1.68,5.18l-5.45,-0.00l4.41,3.20l-1.68,5.18l4.41,-3.20l4.41,3.20l-1.68,-5.18l4.41,-3.20l-5.45,0.00zM2227.15,1253.87m0.00,-7.50l-1.68,5.18l-5.45,-0.00l4.41,3.20l-1.68,5.18l4.41,-3.20l4.41,3.20l-1.68,-5.18l4.41,-3.20l-5.45,0.00z"/><polyline fill="none" stroke="#800080" stroke-width="5.00" stroke-linejoin="round" stroke-linecap="square" points="324.70,1253.87 365.18,1247.36 405.66,1253.95 446.13,1233.60 486.61,1576.17 527.09,1285.87 567.57,1366.55 608.04,1274.74 648.52,1326.81 689.00,1240.46 729.48,1260.34 769.96,1253.95 810.43,1246.63 850.91,1273.00 891.39,1246.63 931.87,1259.81 972.34,1233.60 1012.82,1266.83 1053.30,1280.56 1093.78,1252.52 1134.26,1226.90 1174.73,1259.42 1215.21,1281.18 1255.69,1582.28 1296.17,1736.95 1336.64,1513.55 1377.12,1542.21 1417.60,1276.89 1458.08,1546.22 1498.55,1446.53 1539.03,1343.64 1579.51,1431.04 1619.99,1259.98 1660.47,1293.56 1700.94,1418.26 1741.42,1305.71 1781.90,1404.06 1822.38,1286.73 1862.85,1301.97 1903.33,1420.83 1943.81,1397.72 1984.29,1410.29 2024.77,1461.57 2065.24,1452.86 2105.72,1318.35 2146.20,1389.12 2186.68,1393.16 2227.15,1253.87"/><path fill="#800080" stroke="#800080" stroke-width="2.50" stroke-linejoin="bevel" d="M324.70,1253.87m0.00,-7.50l-1.68,5.18l-5.45,-0.00l4.41,3.20l-1.68,5.18l4.41,-3.20l4.41,3.20l-1.68,-5.18l4.41,-3.20l-5.45,0.00zM365.18,1247.36m0.00,-7.50l-1.68,5.18l-5.45,-0.00l4.41,3.20l-1.68,5.18l4.41,-3.20l4.41,3.20l-1.68,-5.18l4.41,-3.20l-5.45,0.00zM405.66,1253.95m0.00,-7.50l-1.68,5.18l-5.45,-0.00l4.41,3.20l-1.68,5.18l4.41,-3.20l4.41,3.20l-1.68,-5.18l4.41,-3.20l-5.45,0.00zM446.13,1233.60m0.00,-7.50l-1.68,5.18l-5.45,-0.00l4.41,3.20l-1.68,5.18l4.41,-3.20l4.41,3.20l-1.68,-5.18l4.41,-3.20l-5.45,0.00zM486.61,1576.17m0.00,-7.50l-1.68,5.18l-5.45,-0.00l4.41,3.20l-1.68,5.18l4.41,-3.20l4.41,3.20l-1.68,-5.18l4.41,-3.20l-5.45,0.00zM527.09,1285.87m0.00,-7.50l-1.68,5.18l-5.45,-0.00l4.41,3.20l-1.68,5.18l4.41,-3.20l4.41,3.20l-1.68,-5.18l4.41,-3.20l-5.45,0.00zM567.57,1366.55m0.00,-7.50l-1.68,5.18l-5.45,-0.00l4.41,3.20l-1.68,5.18l4.41,-3.20l4.41,3.20l-1.68,-5.18l4.41,-3.20l-5.45,0.00zM608.04,1274.74m0.00,-7.50l-1.68,5.18l-5.45,-0.00l4.41,3.20l-1.68,5.18l4.41,-3.20l4.41,3.20l-1.68,-5.18l4.41,-3.20l-5.45,0.00zM648.52,1326.81m0.00,-7.50l-1.68,5.18l-5.45,-0.00l4.41,3.20l-1.68,5.18l4.41,-3.20l4.41,3.20l-1.68,-5.18l4.41,-3.20l-5.45,0.00zM689.00,1240.46m0.00,-7.50l-1.68,5.18l-5.45,-0.00l4.41,3.20l-1.68,5.18l4.41,-3.20l4.41,3.20l-1.68,-5.18l4.41,-3.20l-5.45,0.00zM729.48,1260.34m0.00,-7.50l-1.68,5.18l-5.45,-0.00l4.41,3.20l-1.68,5.18l4.41,-3.20l4.41,3.20l-1.68,-5.18l4.41,-3.20l-5.45,0.00zM769.96,1253.95m0.00,-7.50l-1.68,5.18l-5.45,-0.00l4.41,3.20l-1.68,5.18l4.41,-3.20l4.41,3.20l-1.68,-5.18l4.41,-3.20l-5.45,0.00zM810.43,1246.63m0.00,-7.50l-1.68,5.18l-5.45,-0.00l4.41,3.20l-1.68,5.18l4.41,-3.20l4.41,3.20l-1.68,-5.18l4.41,-3.20l-5.45,0.00zM850.91,1273.00m0.00,-7.50l-1.68,5.18l-5.45,-0.00l4.41,3.20l-1.68,5.18l4.41,-3.20l4.41,3.20l-1.68,-5.18l4.41,-3.20l-5.45,0.00zM891.39,1246.63m0.00,-7.50l-1.68,5.18l-5.45,-0.00l4.41,3.20l-1.68,5.18l4.41,-3.20l4.41,3.20l-1.68,-5.18l4.41,-3.20l-5.45,0.00zM931.87,1259.81m0.00,-7.50l-1.68,5.18l-5.45,-0.00l4.41,3.20l-1.68,5.18l4.41,-3.20l4.41,3.20l-1.68,-5.18l4.41,-3.20l-5.45,0.00zM972.34,1233.60m0.00,-7.50l-1.68,5.18l-5.45,-0.00l4.41,3.20l-1.68,5.18l4.41,-3.20l4.41,3.20l-1.68,-5.18l4.41,-3.20l-5.45,0.00zM1012.82,1266.83m0.00,-7.50l-1.68,5.18l-5.45,-0.00l4.41,3.20l-1.68,5.18l4.41,-3.20l4.41,3.20l-1.68,-5.18l4.41,-3.20l-5.45,0.00zM1053.30,1280.56m0.00,-7.50l-1.68,5.18l-5.45,-0.00l4.41,3.20l-1.68,5.18l4.41,-3.20l4.41,3.20l-1.68,-5.18l4.41,-3.20l-5.45,0.00zM1093.78,1252.52m0.00,-7.50l-1.68,5.18l-5.45,-0.00l4.41,3.20l-1.68,5.18l4.41,-3.20l4.41,3.20l-1.68,-5.18l4.41,-3.20l-5.45,0.00zM1134.26,1226.90m0.00,-7.50l-1.68,5.18l-5.45,-0.00l4.41,3.20l-1.68,5.18l4.41,-3.20l4.41,3.20l-1.68,-5.18l4.41,-3.20l-5.45,0.00zM1174.73,1259.42m0.00,-7.50l-1.68,5.18l-5.45,-0.00l4.41,3.20l-1.68,5.18l4.41,-3.20l4.41,3.20l-1.68,-5.18l4.41,-3.20l-5.45,0.00zM1215.21,1281.18m0.00,-7.50l-1.68,5.18l-5.45,-0.00l4.41,3.20l-1.68,5.18l4.41,-3.20l4.41,3.20l-1.68,-5.18l4.41,-3.20l-5.45,0.00zM1255.69,1582.28m0.00,-7.50l-1.68,5.18l-5.45,-0.00l4.41,3.20l-1.68,5.18l4.41,-3.20l4.41,3.20l-1.68,-5.18l4.41,-3.20l-5.45,0.00zM1296.17,1736.95m0.00,-7.50l-1.68,5.18l-5.45,-0.00l4.41,3.20l-1.68,5.18l4.41,-3.20l4.41,3.20l-1.68,-5.18l4.41,-3.20l-5.45,0.00zM1336.64,1513.55m0.00,-7.50l-1.68,5.18l-5.45,-0.00l4.41,3.20l-1.68,5.18l4.41,-3.20l4.41,3.20l-1.68,-5.18l4.41,-3.20l-5.45,0.00zM1377.12,1542.21m0.00,-7.50l-1.68,5.18l-5.45,-0.00l4.41,3.20l-1.68,5.18l4.41,-3.20l4.41,3.20l-1.68,-5.18l4.41,-3.20l-5.45,0.00zM1417.60,1276.89m0.00,-7.50l-1.68,5.18l-5.45,-0.00l4.41,3.20l-1.68,5.18l4.41,-3.20l4.41,3.20l-1.68,-5.18l4.41,-3.20l-5.45,0.00zM1458.08,1546.22m0.00,-7.50l-1.68,5.18l-5.45,-0.00l4.41,3.20l-1.68,5.18l4.41,-3.20l4.41,3.20l-1.68,-5.18l4.41,-3.20l-5.45,0.00zM1498.55,1446.53m0.00,-7.50l-1.68,5.18l-5.45,-0.00l4.41,3.20l-1.68,5.18l4.41,-3.20l4.41,3.20l-1.68,-5.18l4.41,-3.20l-5.45,0.00zM1539.03,1343.64m0.00,-7.50l-1.68,5.18l-5.45,-0.00l4.41,3.20l-1.68,5.18l4.41,-3.20l4.41,3.20l-1.68,-5.18l4.41,-3.20l-5.45,0.00zM1579.51,1431.04m0.00,-7.50l-1.68,5.18l-5.45,-0.00l4.41,3.20l-1.68,5.18l4.41,-3.20l4.41,3.20l-1.68,-5.18l4.41,-3.20l-5.45,0.00zM1619.99,1259.98m0.00,-7.50l-1.68,5.18l-5.45,-0.00l4.41,3.20l-1.68,5.18l4.41,-3.20l4.41,3.20l-1.68,-5.18l4.41,-3.20l-5.45,0.00zM1660.47,1293.56m0.00,-7.50l-1.68,5.18l-5.45,-0.00l4.41,3.20l-1.68,5.18l4.41,-3.20l4.41,3.20l-1.68,-5.18l4.41,-3.20l-5.45,0.00zM1700.94,1418.26m0.00,-7.50l-1.68,5.18l-5.45,-0.00l4.41,3.20l-1.68,5.18l4.41,-3.20l4.41,3.20l-1.68,-5.18l4.41,-3.20l-5.45,0.00zM1741.42,1305.71m0.00,-7.50l-1.68,5.18l-5.45,-0.00l4.41,3.20l-1.68,5.18l4.41,-3.20l4.41,3.20l-1.68,-5.18l4.41,-3.20l-5.45,0.00zM1781.90,1404.06m0.00,-7.50l-1.68,5.18l-5.45,-0.00l4.41,3.20l-1.68,5.18l4.41,-3.20l4.41,3.20l-1.68,-5.18l4.41,-3.20l-5.45,0.00zM1822.38,1286.73m0.00,-7.50l-1.68,5.18l-5.45,-0.00l4.41,3.20l-1.68,5.18l4.41,-3.20l4.41,3.20l-1.68,-5.18l4.41,-3.20l-5.45,0.00zM1862.85,1301.97m0.00,-7.50l-1.68,5.18l-5.45,-0.00l4.41,3.20l-1.68,5.18l4.41,-3.20l4.41,3.20l-1.68,-5.18l4.41,-3.20l-5.45,0.00zM1903.33,1420.83m0.00,-7.50l-1.68,5.18l-5.45,-0.00l4.41,3.20l-1.68,5.18l4.41,-3.20l4.41,3.20l-1.68,-5.18l4.41,-3.20l-5.45,0.00zM1943.81,1397.72m0.00,-7.50l-1.68,5.18l-5.45,-0.00l4.41,3.20l-1.68,5.18l4.41,-3.20l4.41,3.20l-1.68,-5.18l4.41,-3.20l-5.45,0.00zM1984.29,1410.29m0.00,-7.50l-1.68,5.18l-5.45,-0.00l4.41,3.20l-1.68,5.18l4.41,-3.20l4.41,3.20l-1.68,-5.18l4.41,-3.20l-5.45,0.00zM2024.77,1461.57m0.00,-7.50l-1.68,5.18l-5.45,-0.00l4.41,3.20l-1.68,5.18l4.41,-3.20l4.41,3.20l-1.68,-5.18l4.41,-3.20l-5.45,0.00zM2065.24,1452.86m0.00,-7.50l-1.68,5.18l-5.45,-0.00l4.41,3.20l-1.68,5.18l4.41,-3.20l4.41,3.20l-1.68,-5.18l4.41,-3.20l-5.45,0.00zM2105.72,1318.35m0.00,-7.50l-1.68,5.18l-5.45,-0.00l4.41,3.20l-1.68,5.18l4.41,-3.20l4.41,3.20l-1.68,-5.18l4.41,-3.20l-5.45,0.00zM2146.20,1389.12m0.00,-7.50l-1.68,5.18l-5.45,-0.00l4.41,3.20l-1.68,5.18l4.41,-3.20l4.41,3.20l-1.68,-5.18l4.41,-3.20l-5.45,0.00zM2186.68,1393.16m0.00,-7.50l-1.68,5.18l-5.45,-0.00l4.41,3.20l-1.68,5.18l4.41,-3.20l4.41,3.20l-1.68,-5.18l4.41,-3.20l-5.45,0.00zM2227.15,1253.87m0.00,-7.50l-1.68,5.18l-5.45,-0.00l4.41,3.20l-1.68,5.18l4.41,-3.20l4.41,3.20l-1.68,-5.18l4.41,-3.20l-5.45,0.00z"/><rect x="229.60" y="1196.70" width="2092.70" height="679.00" fill="none" stroke="#000" stroke-width="2"/><path stroke="#000" stroke-width="2" fill="none" d="M324.70,1875.70v8.75M729.48,1875.70v8.75M1134.26,1875.70v8.75M1539.03,1875.70v8.75M1943.81,1875.70v8.75M229.60,1823.60h-8.75M229.60,1704.26h-8.75M229.60,1584.92h-8.75M229.60,1465.58h-8.75M229.60,1346.24h-8.75M229.60,1226.90h-8.75"/><g style="font-family:'DejaVu Sans',sans-serif;font-size:50px" fill="#000"><text x="324.70" y="1931.30" text-anchor="middle">0</text><text x="729.48" y="1931.30" text-anchor="middle">10</text><text x="1134.26" y="1931.30" text-anchor="middle">20</text><text x="1539.03" y="1931.30" text-anchor="middle">30</text><text x="1943.81" y="1931.30" text-anchor="middle">40</text><text x="212.10" y="1842.90" text-anchor="end">75</text><text x="212.10" y="1723.56" text-anchor="end">80</text><text x="212.10" y="1604.22" text-anchor="end">85</text><text x="212.10" y="1484.88" text-anchor="end">90</text><text x="212.10" y="1365.54" text-anchor="end">95</text><text x="212.10" y="1246.20" text-anchor="end">100</text><text x="1279.65" y="1180.80" text-anchor="middle">Classification Report of VGG-19 for MIT-BIH database</text><text x="1275.95" y="1990.30" text-anchor="middle">Person ID</text><text x="96" y="1536.20" text-anchor="middle" transform="rotate(-90 96 1536.20)">Percentage (%)</text></g><rect x="1859.30" y="1542.10" width="438.00" height="308.60" rx="10" ry="10" fill="#fff" fill-opacity="0.8" stroke="#ccc" stroke-opacity="0.8" stroke-width="2.5"/><line x1="1879.30" y1="1582.60" x2="1979.30" y2="1582.60" stroke="#0a1268" stroke-width="5.00" stroke-linecap="square"/><path fill="#0a1268" stroke="#0a1268" stroke-width="2.50" stroke-linejoin="bevel" d="M1929.30,1582.60m0.00,-7.50l-1.68,5.18l-5.45,-0.00l4.41,3.20l-1.68,5.18l4.41,-3.20l4.41,3.20l-1.68,-5.18l4.41,-3.20l-5.45,0.00z"/><line x1="1879.30" y1="1656.10" x2="1979.30" y2="1656.10" stroke="#008000" stroke-width="5.00" stroke-linecap="square"/><path fill="#008000" stroke="#008000" stroke-width="2.50" stroke-linejoin="bevel" d="M1929.30,1656.10m0.00,-7.50l-1.68,5.18l-5.45,-0.00l4.41,3.20l-1.68,5.18l4.41,-3.20l4.41,3.20l-1.68,-5.18l4.41,-3.20l-5.45,0.00z"/><line x1="1879.30" y1="1729.60" x2="1979.30" y2="1729.60" stroke="#800000" stroke-width="5.00" stroke-linecap="square"/><path fill="#800000" stroke="#800000" stroke-width="2.50" stroke-linejoin="bevel" d="M1929.30,1729.60m0.00,-7.50l-1.68,5.18l-5.45,-0.00l4.41,3.20l-1.68,5.18l4.41,-3.20l4.41,3.20l-1.68,-5.18l4.41,-3.20l-5.45,0.00z"/><line x1="1879.30" y1="1803.10" x2="1979.30" y2="1803.10" stroke="#800080" stroke-width="5.00" stroke-linecap="square"/><path fill="#800080" stroke="#800080" stroke-width="2.50" stroke-linejoin="bevel" d="M1929.30,1803.10m0.00,-7.50l-1.68,5.18l-5.45,-0.00l4.41,3.20l-1.68,5.18l4.41,-3.20l4.41,3.20l-1.68,-5.18l4.41,-3.20l-5.45,0.00z"/><g style="font-family:'DejaVu Sans',sans-serif;font-size:50px" fill="#000"><text x="2019.30" y="1600.00">Specificity</text><text x="2019.30" y="1674.40">Recall</text><text x="2019.30" y="1746.90">Precision</text><text x="2019.30" y="1821.60">F1 score</text></g><text y="2116.90" style="font-family:'Liberation Serif',serif;font-size:84.7px" fill="#000"><tspan x="1138.20">(</tspan><tspan x="1166.00" dy="0.80" font-weight="bold">b</tspan><tspan x="1216.70" dy="-0.80">)</tspan></text></g><g><polyline fill="none" stroke="#0a1268" stroke-width="5.00" stroke-linejoin="round" stroke-linecap="square" points="324.70,2343.09 436.61,2361.05 548.52,2333.75 660.43,2342.37 772.34,2333.75 884.25,2328.00 996.15,2333.75 1108.06,2338.06 1219.97,2342.37 1331.88,2338.06 1443.79,2338.06 1555.70,2346.68 1667.61,2346.68 1779.52,2350.99 1891.43,2332.31 2003.34,2328.00 2115.25,2366.79 2227.15,2332.31"/><path fill="#0a1268" stroke="#0a1268" stroke-width="2.50" stroke-linejoin="bevel" d="M324.70,2343.09m0.00,-7.50l-1.68,5.18l-5.45,-0.00l4.41,3.20l-1.68,5.18l4.41,-3.20l4.41,3.20l-1.68,-5.18l4.41,-3.20l-5.45,0.00zM436.61,2361.05m0.00,-7.50l-1.68,5.18l-5.45,-0.00l4.41,3.20l-1.68,5.18l4.41,-3.20l4.41,3.20l-1.68,-5.18l4.41,-3.20l-5.45,0.00zM548.52,2333.75m0.00,-7.50l-1.68,5.18l-5.45,-0.00l4.41,3.20l-1.68,5.18l4.41,-3.20l4.41,3.20l-1.68,-5.18l4.41,-3.20l-5.45,0.00zM660.43,2342.37m0.00,-7.50l-1.68,5.18l-5.45,-0.00l4.41,3.20l-1.68,5.18l4.41,-3.20l4.41,3.20l-1.68,-5.18l4.41,-3.20l-5.45,0.00zM772.34,2333.75m0.00,-7.50l-1.68,5.18l-5.45,-0.00l4.41,3.20l-1.68,5.18l4.41,-3.20l4.41,3.20l-1.68,-5.18l4.41,-3.20l-5.45,0.00zM884.25,2328.00m0.00,-7.50l-1.68,5.18l-5.45,-0.00l4.41,3.20l-1.68,5.18l4.41,-3.20l4.41,3.20l-1.68,-5.18l4.41,-3.20l-5.45,0.00zM996.15,2333.75m0.00,-7.50l-1.68,5.18l-5.45,-0.00l4.41,3.20l-1.68,5.18l4.41,-3.20l4.41,3.20l-1.68,-5.18l4.41,-3.20l-5.45,0.00zM1108.06,2338.06m0.00,-7.50l-1.68,5.18l-5.45,-0.00l4.41,3.20l-1.68,5.18l4.41,-3.20l4.41,3.20l-1.68,-5.18l4.41,-3.20l-5.45,0.00zM1219.97,2342.37m0.00,-7.50l-1.68,5.18l-5.45,-0.00l4.41,3.20l-1.68,5.18l4.41,-3.20l4.41,3.20l-1.68,-5.18l4.41,-3.20l-5.45,0.00zM1331.88,2338.06m0.00,-7.50l-1.68,5.18l-5.45,-0.00l4.41,3.20l-1.68,5.18l4.41,-3.20l4.41,3.20l-1.68,-5.18l4.41,-3.20l-5.45,0.00zM1443.79,2338.06m0.00,-7.50l-1.68,5.18l-5.45,-0.00l4.41,3.20l-1.68,5.18l4.41,-3.20l4.41,3.20l-1.68,-5.18l4.41,-3.20l-5.45,0.00zM1555.70,2346.68m0.00,-7.50l-1.68,5.18l-5.45,-0.00l4.41,3.20l-1.68,5.18l4.41,-3.20l4.41,3.20l-1.68,-5.18l4.41,-3.20l-5.45,0.00zM1667.61,2346.68m0.00,-7.50l-1.68,5.18l-5.45,-0.00l4.41,3.20l-1.68,5.18l4.41,-3.20l4.41,3.20l-1.68,-5.18l4.41,-3.20l-5.45,0.00zM1779.52,2350.99m0.00,-7.50l-1.68,5.18l-5.45,-0.00l4.41,3.20l-1.68,5.18l4.41,-3.20l4.41,3.20l-1.68,-5.18l4.41,-3.20l-5.45,0.00zM1891.43,2332.31m0.00,-7.50l-1.68,5.18l-5.45,-0.00l4.41,3.20l-1.68,5.18l4.41,-3.20l4.41,3.20l-1.68,-5.18l4.41,-3.20l-5.45,0.00zM2003.34,2328.00m0.00,-7.50l-1.68,5.18l-5.45,-0.00l4.41,3.20l-1.68,5.18l4.41,-3.20l4.41,3.20l-1.68,-5.18l4.41,-3.20l-5.45,0.00zM2115.25,2366.79m0.00,-7.50l-1.68,5.18l-5.45,-0.00l4.41,3.20l-1.68,5.18l4.41,-3.20l4.41,3.20l-1.68,-5.18l4.41,-3.20l-5.45,0.00zM2227.15,2332.31m0.00,-7.50l-1.68,5.18l-5.45,-0.00l4.41,3.20l-1.68,5.18l4.41,-3.20l4.41,3.20l-1.68,-5.18l4.41,-3.20l-5.45,0.00z"/><polyline fill="none" stroke="#008000" stroke-width="5.00" stroke-linejoin="round" stroke-linecap="square" points="324.70,2570.82 436.61,2488.92 548.52,2651.28 660.43,2731.74 772.34,2651.28 884.25,2488.92 996.15,2651.28 1108.06,2488.92 1219.97,2570.82 1331.88,2570.82 1443.79,2328.00 1555.70,2488.92 1667.61,2812.20 1779.52,2731.74 1891.43,2488.92 2003.34,2328.00 2115.25,2328.00 2227.15,2408.46"/><path fill="#008000" stroke="#008000" stroke-width="2.50" stroke-linejoin="bevel" d="M324.70,2570.82m0.00,-7.50l-1.68,5.18l-5.45,-0.00l4.41,3.20l-1.68,5.18l4.41,-3.20l4.41,3.20l-1.68,-5.18l4.41,-3.20l-5.45,0.00zM436.61,2488.92m0.00,-7.50l-1.68,5.18l-5.45,-0.00l4.41,3.20l-1.68,5.18l4.41,-3.20l4.41,3.20l-1.68,-5.18l4.41,-3.20l-5.45,0.00zM548.52,2651.28m0.00,-7.50l-1.68,5.18l-5.45,-0.00l4.41,3.20l-1.68,5.18l4.41,-3.20l4.41,3.20l-1.68,-5.18l4.41,-3.20l-5.45,0.00zM660.43,2731.74m0.00,-7.50l-1.68,5.18l-5.45,-0.00l4.41,3.20l-1.68,5.18l4.41,-3.20l4.41,3.20l-1.68,-5.18l4.41,-3.20l-5.45,0.00zM772.34,2651.28m0.00,-7.50l-1.68,5.18l-5.45,-0.00l4.41,3.20l-1.68,5.18l4.41,-3.20l4.41,3.20l-1.68,-5.18l4.41,-3.20l-5.45,0.00zM884.25,2488.92m0.00,-7.50l-1.68,5.18l-5.45,-0.00l4.41,3.20l-1.68,5.18l4.41,-3.20l4.41,3.20l-1.68,-5.18l4.41,-3.20l-5.45,0.00zM996.15,2651.28m0.00,-7.50l-1.68,5.18l-5.45,-0.00l4.41,3.20l-1.68,5.18l4.41,-3.20l4.41,3.20l-1.68,-5.18l4.41,-3.20l-5.45,0.00zM1108.06,2488.92m0.00,-7.50l-1.68,5.18l-5.45,-0.00l4.41,3.20l-1.68,5.18l4.41,-3.20l4.41,3.20l-1.68,-5.18l4.41,-3.20l-5.45,0.00zM1219.97,2570.82m0.00,-7.50l-1.68,5.18l-5.45,-0.00l4.41,3.20l-1.68,5.18l4.41,-3.20l4.41,3.20l-1.68,-5.18l4.41,-3.20l-5.45,0.00zM1331.88,2570.82m0.00,-7.50l-1.68,5.18l-5.45,-0.00l4.41,3.20l-1.68,5.18l4.41,-3.20l4.41,3.20l-1.68,-5.18l4.41,-3.20l-5.45,0.00zM1443.79,2328.00m0.00,-7.50l-1.68,5.18l-5.45,-0.00l4.41,3.20l-1.68,5.18l4.41,-3.20l4.41,3.20l-1.68,-5.18l4.41,-3.20l-5.45,0.00zM1555.70,2488.92m0.00,-7.50l-1.68,5.18l-5.45,-0.00l4.41,3.20l-1.68,5.18l4.41,-3.20l4.41,3.20l-1.68,-5.18l4.41,-3.20l-5.45,0.00zM1667.61,2812.20m0.00,-7.50l-1.68,5.18l-5.45,-0.00l4.41,3.20l-1.68,5.18l4.41,-3.20l4.41,3.20l-1.68,-5.18l4.41,-3.20l-5.45,0.00zM1779.52,2731.74m0.00,-7.50l-1.68,5.18l-5.45,-0.00l4.41,3.20l-1.68,5.18l4.41,-3.20l4.41,3.20l-1.68,-5.18l4.41,-3.20l-5.45,0.00zM1891.43,2488.92m0.00,-7.50l-1.68,5.18l-5.45,-0.00l4.41,3.20l-1.68,5.18l4.41,-3.20l4.41,3.20l-1.68,-5.18l4.41,-3.20l-5.45,0.00zM2003.34,2328.00m0.00,-7.50l-1.68,5.18l-5.45,-0.00l4.41,3.20l-1.68,5.18l4.41,-3.20l4.41,3.20l-1.68,-5.18l4.41,-3.20l-5.45,0.00zM2115.25,2328.00m0.00,-7.50l-1.68,5.18l-5.45,-0.00l4.41,3.20l-1.68,5.18l4.41,-3.20l4.41,3.20l-1.68,-5.18l4.41,-3.20l-5.45,0.00zM2227.15,2408.46m0.00,-7.50l-1.68,5.18l-5.45,-0.00l4.41,3.20l-1.68,5.18l4.41,-3.20l4.41,3.20l-1.68,-5.18l4.41,-3.20l-5.45,0.00z"/><polyline fill="none" stroke="#800000" stroke-width="5.00" stroke-linejoin="round" stroke-linecap="square" points="324.70,2570.82 436.61,2878.29 548.52,2409.90 660.43,2572.26 772.34,2409.90 884.25,2328.00 996.15,2409.90 1108.06,2488.92 1219.97,2570.82 1331.88,2490.36 1443.79,2487.48 1555.70,2646.97 1667.61,2654.15 1779.52,2731.74 1891.43,2409.90 2003.34,2328.00 2115.25,2945.82 2227.15,2408.46"/><path fill="#800000" stroke="#800000" stroke-width="2.50" stroke-linejoin="bevel" d="M324.70,2570.82m0.00,-7.50l-1.68,5.18l-5.45,-0.00l4.41,3.20l-1.68,5.18l4.41,-3.20l4.41,3.20l-1.68,-5.18l4.41,-3.20l-5.45,0.00zM436.61,2878.29m0.00,-7.50l-1.68,5.18l-5.45,-0.00l4.41,3.20l-1.68,5.18l4.41,-3.20l4.41,3.20l-1.68,-5.18l4.41,-3.20l-5.45,0.00zM548.52,2409.90m0.00,-7.50l-1.68,5.18l-5.45,-0.00l4.41,3.20l-1.68,5.18l4.41,-3.20l4.41,3.20l-1.68,-5.18l4.41,-3.20l-5.45,0.00zM660.43,2572.26m0.00,-7.50l-1.68,5.18l-5.45,-0.00l4.41,3.20l-1.68,5.18l4.41,-3.20l4.41,3.20l-1.68,-5.18l4.41,-3.20l-5.45,0.00zM772.34,2409.90m0.00,-7.50l-1.68,5.18l-5.45,-0.00l4.41,3.20l-1.68,5.18l4.41,-3.20l4.41,3.20l-1.68,-5.18l4.41,-3.20l-5.45,0.00zM884.25,2328.00m0.00,-7.50l-1.68,5.18l-5.45,-0.00l4.41,3.20l-1.68,5.18l4.41,-3.20l4.41,3.20l-1.68,-5.18l4.41,-3.20l-5.45,0.00zM996.15,2409.90m0.00,-7.50l-1.68,5.18l-5.45,-0.00l4.41,3.20l-1.68,5.18l4.41,-3.20l4.41,3.20l-1.68,-5.18l4.41,-3.20l-5.45,0.00zM1108.06,2488.92m0.00,-7.50l-1.68,5.18l-5.45,-0.00l4.41,3.20l-1.68,5.18l4.41,-3.20l4.41,3.20l-1.68,-5.18l4.41,-3.20l-5.45,0.00zM1219.97,2570.82m0.00,-7.50l-1.68,5.18l-5.45,-0.00l4.41,3.20l-1.68,5.18l4.41,-3.20l4.41,3.20l-1.68,-5.18l4.41,-3.20l-5.45,0.00zM1331.88,2490.36m0.00,-7.50l-1.68,5.18l-5.45,-0.00l4.41,3.20l-1.68,5.18l4.41,-3.20l4.41,3.20l-1.68,-5.18l4.41,-3.20l-5.45,0.00zM1443.79,2487.48m0.00,-7.50l-1.68,5.18l-5.45,-0.00l4.41,3.20l-1.68,5.18l4.41,-3.20l4.41,3.20l-1.68,-5.18l4.41,-3.20l-5.45,0.00zM1555.70,2646.97m0.00,-7.50l-1.68,5.18l-5.45,-0.00l4.41,3.20l-1.68,5.18l4.41,-3.20l4.41,3.20l-1.68,-5.18l4.41,-3.20l-5.45,0.00zM1667.61,2654.15m0.00,-7.50l-1.68,5.18l-5.45,-0.00l4.41,3.20l-1.68,5.18l4.41,-3.20l4.41,3.20l-1.68,-5.18l4.41,-3.20l-5.45,0.00zM1779.52,2731.74m0.00,-7.50l-1.68,5.18l-5.45,-0.00l4.41,3.20l-1.68,5.18l4.41,-3.20l4.41,3.20l-1.68,-5.18l4.41,-3.20l-5.45,0.00zM1891.43,2409.90m0.00,-7.50l-1.68,5.18l-5.45,-0.00l4.41,3.20l-1.68,5.18l4.41,-3.20l4.41,3.20l-1.68,-5.18l4.41,-3.20l-5.45,0.00zM2003.34,2328.00m0.00,-7.50l-1.68,5.18l-5.45,-0.00l4.41,3.20l-1.68,5.18l4.41,-3.20l4.41,3.20l-1.68,-5.18l4.41,-3.20l-5.45,0.00zM2115.25,2945.82m0.00,-7.50l-1.68,5.18l-5.45,-0.00l4.41,3.20l-1.68,5.18l4.41,-3.20l4.41,3.20l-1.68,-5.18l4.41,-3.20l-5.45,0.00zM2227.15,2408.46m0.00,-7.50l-1.68,5.18l-5.45,-0.00l4.41,3.20l-1.68,5.18l4.41,-3.20l4.41,3.20l-1.68,-5.18l4.41,-3.20l-5.45,0.00z"/><polyline fill="none" stroke="#800080" stroke-width="5.00" stroke-linejoin="round" stroke-linecap="square" points="324.70,2570.82 436.61,2686.31 548.52,2531.62 660.43,2652.45 772.34,2531.62 884.25,2408.91 996.15,2531.62 1108.06,2488.92 1219.97,2570.82 1331.88,2530.70 1443.79,2408.19 1555.70,2568.39 1667.61,2733.62 1779.52,2731.74 1891.43,2449.52 2003.34,2328.00 2115.25,2643.70 2227.15,2408.46"/><path fill="#800080" stroke="#800080" stroke-width="2.50" stroke-linejoin="bevel" d="M324.70,2570.82m0.00,-7.50l-1.68,5.18l-5.45,-0.00l4.41,3.20l-1.68,5.18l4.41,-3.20l4.41,3.20l-1.68,-5.18l4.41,-3.20l-5.45,0.00zM436.61,2686.31m0.00,-7.50l-1.68,5.18l-5.45,-0.00l4.41,3.20l-1.68,5.18l4.41,-3.20l4.41,3.20l-1.68,-5.18l4.41,-3.20l-5.45,0.00zM548.52,2531.62m0.00,-7.50l-1.68,5.18l-5.45,-0.00l4.41,3.20l-1.68,5.18l4.41,-3.20l4.41,3.20l-1.68,-5.18l4.41,-3.20l-5.45,0.00zM660.43,2652.45m0.00,-7.50l-1.68,5.18l-5.45,-0.00l4.41,3.20l-1.68,5.18l4.41,-3.20l4.41,3.20l-1.68,-5.18l4.41,-3.20l-5.45,0.00zM772.34,2531.62m0.00,-7.50l-1.68,5.18l-5.45,-0.00l4.41,3.20l-1.68,5.18l4.41,-3.20l4.41,3.20l-1.68,-5.18l4.41,-3.20l-5.45,0.00zM884.25,2408.91m0.00,-7.50l-1.68,5.18l-5.45,-0.00l4.41,3.20l-1.68,5.18l4.41,-3.20l4.41,3.20l-1.68,-5.18l4.41,-3.20l-5.45,0.00zM996.15,2531.62m0.00,-7.50l-1.68,5.18l-5.45,-0.00l4.41,3.20l-1.68,5.18l4.41,-3.20l4.41,3.20l-1.68,-5.18l4.41,-3.20l-5.45,0.00zM1108.06,2488.92m0.00,-7.50l-1.68,5.18l-5.45,-0.00l4.41,3.20l-1.68,5.18l4.41,-3.20l4.41,3.20l-1.68,-5.18l4.41,-3.20l-5.45,0.00zM1219.97,2570.82m0.00,-7.50l-1.68,5.18l-5.45,-0.00l4.41,3.20l-1.68,5.18l4.41,-3.20l4.41,3.20l-1.68,-5.18l4.41,-3.20l-5.45,0.00zM1331.88,2530.70m0.00,-7.50l-1.68,5.18l-5.45,-0.00l4.41,3.20l-1.68,5.18l4.41,-3.20l4.41,3.20l-1.68,-5.18l4.41,-3.20l-5.45,0.00zM1443.79,2408.19m0.00,-7.50l-1.68,5.18l-5.45,-0.00l4.41,3.20l-1.68,5.18l4.41,-3.20l4.41,3.20l-1.68,-5.18l4.41,-3.20l-5.45,0.00zM1555.70,2568.39m0.00,-7.50l-1.68,5.18l-5.45,-0.00l4.41,3.20l-1.68,5.18l4.41,-3.20l4.41,3.20l-1.68,-5.18l4.41,-3.20l-5.45,0.00zM1667.61,2733.62m0.00,-7.50l-1.68,5.18l-5.45,-0.00l4.41,3.20l-1.68,5.18l4.41,-3.20l4.41,3.20l-1.68,-5.18l4.41,-3.20l-5.45,0.00zM1779.52,2731.74m0.00,-7.50l-1.68,5.18l-5.45,-0.00l4.41,3.20l-1.68,5.18l4.41,-3.20l4.41,3.20l-1.68,-5.18l4.41,-3.20l-5.45,0.00zM1891.43,2449.52m0.00,-7.50l-1.68,5.18l-5.45,-0.00l4.41,3.20l-1.68,5.18l4.41,-3.20l4.41,3.20l-1.68,-5.18l4.41,-3.20l-5.45,0.00zM2003.34,2328.00m0.00,-7.50l-1.68,5.18l-5.45,-0.00l4.41,3.20l-1.68,5.18l4.41,-3.20l4.41,3.20l-1.68,-5.18l4.41,-3.20l-5.45,0.00zM2115.25,2643.70m0.00,-7.50l-1.68,5.18l-5.45,-0.00l4.41,3.20l-1.68,5.18l4.41,-3.20l4.41,3.20l-1.68,-5.18l4.41,-3.20l-5.45,0.00zM2227.15,2408.46m0.00,-7.50l-1.68,5.18l-5.45,-0.00l4.41,3.20l-1.68,5.18l4.41,-3.20l4.41,3.20l-1.68,-5.18l4.41,-3.20l-5.45,0.00z"/><rect x="229.60" y="2297.30" width="2092.70" height="679.10" fill="none" stroke="#000" stroke-width="2"/><path stroke="#000" stroke-width="2" fill="none" d="M324.70,2976.40v8.75M604.47,2976.40v8.75M884.25,2976.40v8.75M1164.02,2976.40v8.75M1443.79,2976.40v8.75M1723.56,2976.40v8.75M2003.34,2976.40v8.75M2283.11,2976.40v8.75M229.60,2902.72h-8.75M229.60,2759.04h-8.75M229.60,2615.36h-8.75M229.60,2471.68h-8.75M229.60,2328.00h-8.75"/><g style="font-family:'DejaVu Sans',sans-serif;font-size:50px" fill="#000"><text x="324.70" y="3032.00" text-anchor="middle">0.0</text><text x="604.47" y="3032.00" text-anchor="middle">2.5</text><text x="884.25" y="3032.00" text-anchor="middle">5.0</text><text x="1164.02" y="3032.00" text-anchor="middle">7.5</text><text x="1443.79" y="3032.00" text-anchor="middle">10.0</text><text x="1723.56" y="3032.00" text-anchor="middle">12.5</text><text x="2003.34" y="3032.00" text-anchor="middle">15.0</text><text x="2283.11" y="3032.00" text-anchor="middle">17.5</text><text x="212.10" y="2922.02" text-anchor="end">96</text><text x="212.10" y="2778.34" text-anchor="end">97</text><text x="212.10" y="2634.66" text-anchor="end">98</text><text x="212.10" y="2490.98" text-anchor="end">99</text><text x="212.10" y="2347.30" text-anchor="end">100</text><text x="1275.95" y="2282.30" text-anchor="middle">Classification Report of VGG-19 for NSRDB database</text><text x="1275.95" y="3091.00" text-anchor="middle">Person ID</text><text x="96" y="2636.85" text-anchor="middle" transform="rotate(-90 96 2636.85)">Percentage (%)</text></g><rect x="1056.95" y="2642.80" width="438.00" height="308.60" rx="10" ry="10" fill="#fff" fill-opacity="0.8" stroke="#ccc" stroke-opacity="0.8" stroke-width="2.5"/><line x1="1076.95" y1="2683.30" x2="1176.95" y2="2683.30" stroke="#0a1268" stroke-width="5.00" stroke-linecap="square"/><path fill="#0a1268" stroke="#0a1268" stroke-width="2.50" stroke-linejoin="bevel" d="M1126.95,2683.30m0.00,-7.50l-1.68,5.18l-5.45,-0.00l4.41,3.20l-1.68,5.18l4.41,-3.20l4.41,3.20l-1.68,-5.18l4.41,-3.20l-5.45,0.00z"/><line x1="1076.95" y1="2756.80" x2="1176.95" y2="2756.80" stroke="#008000" stroke-width="5.00" stroke-linecap="square"/><path fill="#008000" stroke="#008000" stroke-width="2.50" stroke-linejoin="bevel" d="M1126.95,2756.80m0.00,-7.50l-1.68,5.18l-5.45,-0.00l4.41,3.20l-1.68,5.18l4.41,-3.20l4.41,3.20l-1.68,-5.18l4.41,-3.20l-5.45,0.00z"/><line x1="1076.95" y1="2830.30" x2="1176.95" y2="2830.30" stroke="#800000" stroke-width="5.00" stroke-linecap="square"/><path fill="#800000" stroke="#800000" stroke-width="2.50" stroke-linejoin="bevel" d="M1126.95,2830.30m0.00,-7.50l-1.68,5.18l-5.45,-0.00l4.41,3.20l-1.68,5.18l4.41,-3.20l4.41,3.20l-1.68,-5.18l4.41,-3.20l-5.45,0.00z"/><line x1="1076.95" y1="2903.80" x2="1176.95" y2="2903.80" stroke="#800080" stroke-width="5.00" stroke-linecap="square"/><path fill="#800080" stroke="#800080" stroke-width="2.50" stroke-linejoin="bevel" d="M1126.95,2903.80m0.00,-7.50l-1.68,5.18l-5.45,-0.00l4.41,3.20l-1.68,5.18l4.41,-3.20l4.41,3.20l-1.68,-5.18l4.41,-3.20l-5.45,0.00z"/><g style="font-family:'DejaVu Sans',sans-serif;font-size:50px" fill="#000"><text x="1216.95" y="2700.70">Specificity</text><text x="1216.95" y="2775.10">Recall</text><text x="1216.95" y="2847.60">Precision</text><text x="1216.95" y="2922.30">F1 score</text></g><text y="3218.00" style="font-family:'Liberation Serif',serif;font-size:84.7px" fill="#000"><tspan x="1153.00">(</tspan><tspan x="1180.00" dy="1.20" font-weight="bold">c</tspan><tspan x="1217.30" dy="-1.20">)</tspan></text></g></svg></body></html>
